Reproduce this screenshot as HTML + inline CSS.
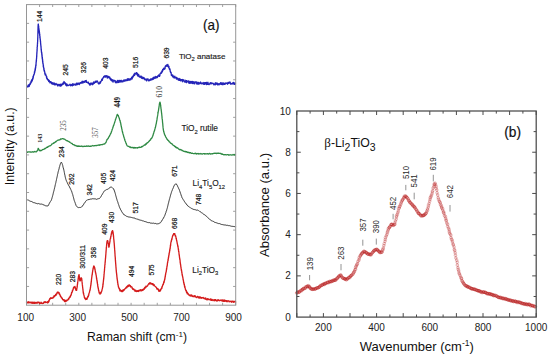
<!DOCTYPE html>
<html><head><meta charset="utf-8"><style>
html,body{margin:0;padding:0;background:#fff;}
body{width:550px;height:357px;overflow:hidden;font-family:"Liberation Sans", sans-serif;}
svg{display:block;}
</style></head><body>
<svg width="550" height="357" viewBox="0 0 550 357">
<rect width="550" height="357" fill="#fff"/>
<path d="M26.50,305.2 v-2.4 M26.50,4.6 v2.4 M39.58,305.2 v-2.4 M39.58,4.6 v2.4 M52.65,305.2 v-2.4 M52.65,4.6 v2.4 M65.72,305.2 v-2.4 M65.72,4.6 v2.4 M78.80,305.2 v-2.4 M78.80,4.6 v2.4 M91.88,305.2 v-2.4 M91.88,4.6 v2.4 M104.95,305.2 v-2.4 M104.95,4.6 v2.4 M118.03,305.2 v-2.4 M118.03,4.6 v2.4 M131.10,305.2 v-2.4 M131.10,4.6 v2.4 M144.18,305.2 v-2.4 M144.18,4.6 v2.4 M157.25,305.2 v-2.4 M157.25,4.6 v2.4 M170.33,305.2 v-2.4 M170.33,4.6 v2.4 M183.40,305.2 v-2.4 M183.40,4.6 v2.4 M196.47,305.2 v-2.4 M196.47,4.6 v2.4 M209.55,305.2 v-2.4 M209.55,4.6 v2.4 M222.62,305.2 v-2.4 M222.62,4.6 v2.4 M235.70,305.2 v-2.4 M235.70,4.6 v2.4 M26.5,23.39 h2.6 M235.7,23.39 h-2.6 M26.5,42.18 h2.6 M235.7,42.18 h-2.6 M26.5,60.97 h2.6 M235.7,60.97 h-2.6 M26.5,79.76 h2.6 M235.7,79.76 h-2.6 M26.5,98.55 h2.6 M235.7,98.55 h-2.6 M26.5,117.34 h2.6 M235.7,117.34 h-2.6 M26.5,136.13 h2.6 M235.7,136.13 h-2.6 M26.5,154.92 h2.6 M235.7,154.92 h-2.6 M26.5,173.71 h2.6 M235.7,173.71 h-2.6 M26.5,192.50 h2.6 M235.7,192.50 h-2.6 M26.5,211.29 h2.6 M235.7,211.29 h-2.6 M26.5,230.08 h2.6 M235.7,230.08 h-2.6 M26.5,248.87 h2.6 M235.7,248.87 h-2.6 M26.5,267.66 h2.6 M235.7,267.66 h-2.6 M26.5,286.45 h2.6 M235.7,286.45 h-2.6" stroke="#969696" stroke-width="0.9" fill="none"/>
<path d="M26.70,86.37 L26.89,87.02 L27.16,86.50 L27.47,86.94 L27.81,86.82 L28.16,85.25 L28.50,84.83 L28.67,86.63 L28.83,85.05 L29.01,84.78 L29.19,86.37 L29.36,84.87 L29.54,85.50 L29.72,84.37 L29.90,84.48 L30.08,83.03 L30.26,83.90 L30.43,84.17 L30.60,83.06 L30.74,83.33 L30.89,82.90 L31.03,81.18 L31.17,82.58 L31.31,81.90 L31.45,80.93 L31.59,80.00 L31.72,81.71 L31.86,80.48 L31.99,80.77 L32.12,80.85 L32.25,80.15 L32.38,80.33 L32.50,78.75 L32.60,79.46 L32.69,78.33 L32.79,79.24 L32.88,78.82 L32.97,76.67 L33.06,76.48 L33.15,76.38 L33.23,77.89 L33.32,76.32 L33.40,76.48 L33.49,75.40 L33.57,75.59 L33.66,74.99 L33.74,74.60 L33.83,74.84 L33.91,74.52 L34.00,74.97 L34.08,74.16 L34.15,74.48 L34.23,74.03 L34.31,74.07 L34.39,73.03 L34.47,71.53 L34.55,72.92 L34.63,72.88 L34.71,72.45 L34.79,71.35 L34.87,71.40 L34.94,69.90 L35.02,71.08 L35.09,70.15 L35.17,69.15 L35.24,68.30 L35.31,69.87 L35.37,69.86 L35.44,67.36 L35.50,68.72 L35.55,67.51 L35.59,66.62 L35.63,66.68 L35.67,67.54 L35.71,67.51 L35.75,65.24 L35.79,66.32 L35.83,64.66 L35.86,65.98 L35.90,64.75 L35.93,65.77 L35.97,65.71 L36.00,64.26 L36.03,65.14 L36.06,63.17 L36.10,62.30 L36.13,63.23 L36.16,61.55 L36.19,61.62 L36.22,61.80 L36.25,61.96 L36.28,60.54 L36.31,59.93 L36.34,61.57 L36.37,59.90 L36.40,61.10 L36.42,60.68 L36.45,59.15 L36.47,59.07 L36.49,58.93 L36.52,58.94 L36.54,58.53 L36.56,58.15 L36.59,58.00 L36.61,58.47 L36.63,57.13 L36.65,56.65 L36.67,57.04 L36.69,55.58 L36.72,55.42 L36.74,56.74 L36.76,55.33 L36.78,55.09 L36.80,53.49 L36.82,54.14 L36.84,54.23 L36.86,52.57 L36.88,53.69 L36.90,53.41 L36.92,51.73 L36.94,52.77 L36.96,52.08 L36.98,52.28 L37.00,51.18 L37.02,51.72 L37.04,51.49 L37.06,49.46 L37.08,49.25 L37.10,50.42 L37.12,50.81 L37.14,48.80 L37.16,49.00 L37.18,49.04 L37.20,48.10 L37.22,47.92 L37.24,47.51 L37.25,47.37 L37.27,47.63 L37.29,46.64 L37.31,46.55 L37.33,47.22 L37.35,45.15 L37.37,46.17 L37.39,46.29 L37.40,44.99 L37.42,44.49 L37.44,45.60 L37.46,43.95 L37.48,43.54 L37.49,43.83 L37.51,44.16 L37.53,42.43 L37.55,42.65 L37.56,42.36 L37.58,43.24 L37.60,41.96 L37.62,42.63 L37.63,40.64 L37.65,40.70 L37.67,41.09 L37.68,41.30 L37.70,39.88 L37.71,39.08 L37.72,38.56 L37.73,39.26 L37.74,38.15 L37.75,39.33 L37.76,39.09 L37.77,37.20 L37.78,37.10 L37.79,38.04 L37.80,37.30 L37.81,37.34 L37.82,35.88 L37.83,35.01 L37.84,35.04 L37.85,35.87 L37.86,34.25 L37.87,34.06 L37.87,33.86 L37.88,33.49 L37.89,33.09 L37.90,33.95 L37.91,31.74 L37.92,31.01 L37.93,32.89 L37.94,32.37 L37.94,32.27 L37.95,30.58 L37.96,31.47 L37.97,31.07 L37.98,29.03 L37.99,29.95 L38.00,29.84 L38.01,29.11 L38.02,28.45 L38.03,27.60 L38.04,27.43 L38.05,26.88 L38.06,26.22 L38.07,27.21 L38.09,26.24 L38.10,27.27 L38.11,25.21 L38.12,27.06 L38.13,26.37 L38.15,26.75 L38.16,26.52 L38.17,26.39 L38.19,25.49 L38.20,24.03 L38.24,25.57 L38.29,24.09 L38.33,24.40 L38.38,25.37 L38.43,25.22 L38.48,25.21 L38.53,26.79 L38.58,26.39 L38.63,26.17 L38.69,26.42 L38.74,28.38 L38.80,27.97 L38.86,29.22 L38.92,28.70 L38.98,28.83 L39.04,30.13 L39.10,31.26 L39.13,29.95 L39.17,31.69 L39.21,32.26 L39.24,32.25 L39.28,32.56 L39.32,30.88 L39.35,32.66 L39.39,33.51 L39.43,31.86 L39.47,32.69 L39.51,32.99 L39.55,33.91 L39.59,33.98 L39.63,34.41 L39.67,35.46 L39.71,33.92 L39.75,34.37 L39.80,34.87 L39.84,35.19 L39.88,35.39 L39.92,37.89 L39.96,37.93 L40.00,36.42 L40.04,37.74 L40.08,37.62 L40.11,37.95 L40.15,38.36 L40.19,39.40 L40.23,39.57 L40.26,39.35 L40.30,39.26 L40.33,39.89 L40.37,39.69 L40.40,41.03 L40.43,41.72 L40.46,41.22 L40.49,40.81 L40.53,41.35 L40.56,42.13 L40.59,43.00 L40.62,43.74 L40.65,43.08 L40.68,44.41 L40.71,44.29 L40.74,44.15 L40.77,44.32 L40.80,44.93 L40.83,45.74 L40.86,45.37 L40.89,46.34 L40.92,46.09 L40.94,45.88 L40.97,46.88 L41.00,47.57 L41.03,46.38 L41.06,47.52 L41.09,47.82 L41.12,49.21 L41.15,49.64 L41.18,48.58 L41.21,50.12 L41.24,50.14 L41.27,49.15 L41.30,49.91 L41.34,49.44 L41.38,51.43 L41.42,51.41 L41.45,52.28 L41.49,52.37 L41.53,52.40 L41.57,52.87 L41.61,52.78 L41.65,51.98 L41.68,53.46 L41.72,52.36 L41.76,53.00 L41.80,54.81 L41.84,53.36 L41.88,53.77 L41.92,54.09 L41.95,56.26 L41.99,54.87 L42.03,54.79 L42.07,57.05 L42.11,55.61 L42.15,57.64 L42.18,57.53 L42.22,58.21 L42.26,58.79 L42.30,58.19 L42.34,59.03 L42.38,57.50 L42.41,59.56 L42.45,59.24 L42.49,60.03 L42.52,58.87 L42.55,60.71 L42.59,61.45 L42.62,59.64 L42.66,60.57 L42.69,61.43 L42.73,62.36 L42.76,61.25 L42.80,61.39 L42.84,61.85 L42.87,63.03 L42.91,63.65 L42.95,63.09 L43.00,63.32 L43.04,63.70 L43.09,63.89 L43.14,64.36 L43.19,63.87 L43.24,65.18 L43.30,66.64 L43.35,65.57 L43.40,66.66 L43.45,65.53 L43.50,67.10 L43.56,67.55 L43.61,67.65 L43.67,67.57 L43.72,67.80 L43.78,68.48 L43.83,69.40 L43.89,67.91 L43.95,68.09 L44.01,69.97 L44.07,70.68 L44.14,70.03 L44.20,70.15 L44.27,71.12 L44.34,70.15 L44.41,70.64 L44.48,70.78 L44.55,72.00 L44.62,71.64 L44.70,71.73 L44.78,73.12 L44.86,74.03 L44.94,72.72 L45.03,73.97 L45.11,73.53 L45.20,74.85 L45.32,74.52 L45.44,74.08 L45.56,74.27 L45.69,74.11 L45.82,75.51 L45.96,75.59 L46.10,75.38 L46.24,76.13 L46.39,76.32 L46.53,77.70 L46.68,76.46 L46.83,78.77 L46.98,77.81 L47.14,78.37 L47.29,78.31 L47.44,79.44 L47.60,79.65 L47.75,79.26 L47.90,79.31 L48.05,80.11 L48.20,80.65 L48.35,79.76 L48.50,80.76 L48.73,81.61 L48.95,80.71 L49.16,80.39 L49.37,80.63 L49.57,82.00 L49.78,82.09 L49.99,82.95 L50.21,82.87 L50.44,81.56 L50.69,81.60 L50.95,81.92 L51.24,81.91 L51.56,83.32 L51.90,83.86 L52.13,84.07 L52.37,82.64 L52.64,84.21 L52.91,83.01 L53.20,83.39 L53.50,84.24 L53.80,82.81 L54.12,82.95 L54.44,84.84 L54.76,83.65 L55.09,83.92 L55.41,84.57 L55.74,84.90 L56.06,83.39 L56.38,84.28 L56.70,84.61 L57.00,84.81 L57.30,84.23 L57.59,85.20 L57.86,86.15 L58.13,84.85 L58.37,85.27 L58.60,84.29 L59.04,84.71 L59.44,85.67 L59.80,84.33 L60.13,86.15 L60.44,86.14 L60.72,84.11 L60.99,86.04 L61.25,84.57 L61.50,85.41 L61.75,85.24 L62.00,84.01 L62.27,84.75 L62.52,84.47 L62.76,84.58 L62.99,83.00 L63.20,83.89 L63.41,84.11 L63.61,83.18 L63.80,82.66 L64.00,81.52 L64.20,82.39 L64.41,82.10 L64.59,83.13 L64.76,83.27 L64.92,83.28 L65.08,82.67 L65.27,84.10 L65.47,84.36 L65.71,83.53 L66.00,85.44 L66.23,84.99 L66.47,83.82 L66.72,85.85 L66.97,84.05 L67.24,84.58 L67.53,85.59 L67.83,85.35 L68.16,85.29 L68.52,85.55 L68.91,85.11 L69.34,84.76 L69.80,84.42 L70.03,84.15 L70.28,85.69 L70.55,85.75 L70.83,85.22 L71.13,85.65 L71.44,84.70 L71.76,84.43 L72.08,84.67 L72.42,85.79 L72.75,83.75 L73.10,84.80 L73.44,84.13 L73.79,85.32 L74.13,84.27 L74.47,84.16 L74.81,84.27 L75.14,84.54 L75.47,85.03 L75.78,83.97 L76.09,85.10 L76.38,83.28 L76.66,83.61 L76.92,83.16 L77.17,83.14 L77.39,84.70 L77.60,84.55 L78.15,83.16 L78.54,83.12 L78.81,83.64 L79.02,84.40 L79.20,84.54 L79.39,84.33 L79.65,83.86 L80.00,82.65 L80.22,83.16 L80.47,82.56 L80.73,83.23 L81.01,83.18 L81.30,82.15 L81.60,82.10 L81.90,83.21 L82.21,81.24 L82.51,82.93 L82.81,82.98 L83.10,82.96 L83.38,81.45 L83.64,81.73 L83.88,81.68 L84.10,81.70 L84.30,82.44 L84.77,81.58 L85.07,80.58 L85.28,81.94 L85.50,81.12 L85.80,81.54 L86.01,81.96 L86.21,80.38 L86.43,82.41 L86.65,82.36 L86.89,82.17 L87.14,82.46 L87.40,82.53 L87.69,82.09 L88.00,83.07 L88.25,82.02 L88.51,83.28 L88.78,83.78 L89.07,83.46 L89.36,83.90 L89.66,84.99 L89.97,84.96 L90.29,83.25 L90.61,84.90 L90.94,84.54 L91.27,83.17 L91.60,83.86 L91.84,83.49 L92.09,83.00 L92.35,83.96 L92.61,84.72 L92.88,83.07 L93.15,84.16 L93.43,83.51 L93.71,81.93 L93.98,83.43 L94.26,82.58 L94.53,83.14 L94.79,82.42 L95.05,82.29 L95.30,81.18 L95.55,82.17 L95.78,82.38 L96.00,82.17 L96.29,81.17 L96.57,82.05 L96.83,81.59 L97.07,80.93 L97.30,81.05 L97.53,81.42 L97.75,82.01 L97.97,82.19 L98.20,83.22 L98.42,83.88 L98.66,83.59 L98.90,83.31 L99.10,83.79 L99.31,82.85 L99.51,83.07 L99.72,83.58 L99.93,82.50 L100.14,81.72 L100.36,83.18 L100.57,82.47 L100.78,81.33 L100.99,81.04 L101.20,81.12 L101.40,81.00 L101.61,79.83 L101.80,79.04 L102.00,79.30 L102.22,80.42 L102.42,78.61 L102.62,79.08 L102.81,78.16 L102.99,77.91 L103.18,77.53 L103.37,77.82 L103.56,77.00 L103.76,76.43 L103.98,76.41 L104.20,76.37 L104.44,76.99 L104.70,75.84 L104.96,75.68 L105.23,76.65 L105.51,76.52 L105.81,77.22 L106.11,75.67 L106.42,76.54 L106.74,76.58 L107.06,75.75 L107.38,78.09 L107.71,76.40 L108.04,76.21 L108.36,77.25 L108.68,76.64 L109.00,77.89 L109.23,77.36 L109.46,76.98 L109.69,76.98 L109.91,78.79 L110.14,77.91 L110.36,79.36 L110.59,78.82 L110.81,80.18 L111.04,78.90 L111.27,79.01 L111.50,79.29 L111.74,80.84 L111.98,80.61 L112.22,80.14 L112.46,79.74 L112.71,81.33 L112.97,82.18 L113.23,81.41 L113.50,80.11 L113.77,80.26 L114.04,80.48 L114.31,80.73 L114.59,80.46 L114.86,80.53 L115.14,82.00 L115.42,82.60 L115.70,80.92 L115.99,82.77 L116.29,81.56 L116.59,82.32 L116.89,82.57 L117.21,82.59 L117.53,80.38 L117.87,80.99 L118.21,81.68 L118.56,82.45 L118.92,80.35 L119.30,80.80 L119.56,82.11 L119.82,80.32 L120.10,80.95 L120.39,80.78 L120.68,81.57 L120.98,82.13 L121.29,80.28 L121.61,81.59 L121.93,81.53 L122.25,81.73 L122.58,81.00 L122.91,81.84 L123.24,80.44 L123.57,80.51 L123.90,80.01 L124.23,81.27 L124.56,80.50 L124.88,79.93 L125.21,79.63 L125.52,80.90 L125.83,80.56 L126.13,80.75 L126.43,79.91 L126.72,80.09 L127.00,79.22 L127.26,80.50 L127.52,78.78 L127.77,79.78 L128.00,80.42 L128.40,80.11 L128.76,78.61 L129.11,78.83 L129.43,80.17 L129.74,79.58 L130.02,80.03 L130.29,79.89 L130.55,78.75 L130.80,79.70 L131.03,79.17 L131.27,78.07 L131.49,78.00 L131.72,77.13 L131.94,77.74 L132.17,78.89 L132.40,76.65 L132.62,77.56 L132.83,76.22 L133.03,75.88 L133.23,76.96 L133.43,75.68 L133.61,74.91 L133.80,74.85 L133.98,75.71 L134.16,75.26 L134.33,73.58 L134.50,73.81 L134.67,75.31 L134.84,73.27 L135.01,73.88 L135.17,73.35 L135.34,74.07 L135.50,73.55 L135.77,73.92 L136.03,73.34 L136.28,72.61 L136.52,72.76 L136.76,72.75 L136.99,74.79 L137.23,73.35 L137.48,73.40 L137.73,75.91 L138.00,74.28 L138.22,76.10 L138.44,74.31 L138.65,75.38 L138.86,74.95 L139.07,76.56 L139.29,76.21 L139.52,76.44 L139.77,76.89 L140.03,77.33 L140.33,76.25 L140.65,77.05 L141.00,76.87 L141.22,76.19 L141.45,78.06 L141.69,77.62 L141.94,78.30 L142.21,77.00 L142.48,77.96 L142.76,77.94 L143.04,78.74 L143.33,77.35 L143.63,78.16 L143.92,78.66 L144.23,77.82 L144.53,79.13 L144.83,79.71 L145.14,79.10 L145.44,79.76 L145.74,79.77 L146.04,78.93 L146.33,79.34 L146.62,80.95 L146.90,79.40 L147.21,79.66 L147.51,78.84 L147.82,79.15 L148.13,78.99 L148.43,80.79 L148.74,80.24 L149.04,80.53 L149.35,80.72 L149.65,79.73 L149.96,80.40 L150.26,79.35 L150.57,78.96 L150.87,80.12 L151.18,79.90 L151.48,79.90 L151.79,78.67 L152.09,79.26 L152.39,78.27 L152.70,79.59 L152.99,79.32 L153.29,77.73 L153.59,79.18 L153.89,77.30 L154.20,77.01 L154.50,78.43 L154.81,77.31 L155.12,77.77 L155.42,77.97 L155.72,76.43 L156.03,78.03 L156.32,76.80 L156.62,77.06 L156.91,76.73 L157.19,77.56 L157.47,77.44 L157.74,76.19 L158.00,75.59 L158.26,75.90 L158.50,75.99 L158.72,75.00 L158.93,74.99 L159.14,76.25 L159.33,75.88 L159.51,76.32 L159.69,76.09 L159.87,75.60 L160.04,74.15 L160.20,73.38 L160.36,73.49 L160.52,73.59 L160.69,73.47 L160.85,73.24 L161.01,72.53 L161.18,73.44 L161.35,71.81 L161.52,71.96 L161.71,72.71 L161.90,72.26 L162.09,70.77 L162.30,70.38 L162.48,71.51 L162.67,69.36 L162.87,69.41 L163.07,70.10 L163.28,69.85 L163.49,68.68 L163.70,68.12 L163.92,68.20 L164.14,69.28 L164.37,68.26 L164.59,69.21 L164.81,68.47 L165.04,68.66 L165.26,66.13 L165.48,66.24 L165.69,65.59 L165.91,66.37 L166.12,65.93 L166.32,65.06 L166.52,66.08 L166.71,64.84 L166.90,65.25 L167.07,65.00 L167.24,66.26 L167.40,65.30 L167.62,64.93 L167.82,64.47 L168.01,65.51 L168.19,66.16 L168.36,66.48 L168.51,67.30 L168.66,67.33 L168.81,66.29 L168.94,66.36 L169.08,68.20 L169.21,68.63 L169.33,68.32 L169.46,69.46 L169.59,69.14 L169.72,68.83 L169.86,68.90 L170.00,68.84 L170.12,70.61 L170.23,71.50 L170.34,71.81 L170.43,71.05 L170.52,71.82 L170.61,72.76 L170.69,72.79 L170.78,72.59 L170.87,72.45 L170.96,73.00 L171.06,72.48 L171.16,72.81 L171.28,74.31 L171.41,75.34 L171.55,74.56 L171.71,74.51 L171.89,74.64 L172.08,75.15 L172.30,76.23 L172.49,75.57 L172.68,76.97 L172.89,75.22 L173.10,75.77 L173.32,76.44 L173.55,76.34 L173.79,77.56 L174.03,77.66 L174.28,78.06 L174.54,77.45 L174.80,76.20 L175.08,77.65 L175.35,77.73 L175.63,77.72 L175.92,77.36 L176.21,78.53 L176.51,79.15 L176.81,77.35 L177.12,78.84 L177.43,78.26 L177.74,78.74 L178.06,79.78 L178.38,80.07 L178.70,79.44 L178.95,78.47 L179.20,80.32 L179.46,78.64 L179.72,79.23 L179.98,80.40 L180.24,79.28 L180.50,79.27 L180.77,81.00 L181.04,81.08 L181.31,79.68 L181.58,79.96 L181.86,79.79 L182.14,79.53 L182.43,79.91 L182.71,81.76 L183.00,79.69 L183.29,80.14 L183.59,80.16 L183.89,79.96 L184.20,81.12 L184.50,81.73 L184.81,82.04 L185.13,81.63 L185.45,82.15 L185.77,80.28 L186.10,81.03 L186.43,82.73 L186.77,80.66 L187.11,81.21 L187.45,81.79 L187.80,81.34 L188.06,82.06 L188.32,80.91 L188.58,81.40 L188.85,83.18 L189.11,81.27 L189.38,83.13 L189.64,81.43 L189.91,83.42 L190.18,82.69 L190.46,82.66 L190.73,81.48 L191.01,81.31 L191.28,83.03 L191.56,81.66 L191.84,81.73 L192.13,83.28 L192.41,83.43 L192.70,81.47 L192.99,83.69 L193.29,82.69 L193.58,82.36 L193.88,81.72 L194.18,82.42 L194.48,83.88 L194.79,82.21 L195.10,81.87 L195.41,81.93 L195.73,81.91 L196.04,82.47 L196.37,83.84 L196.69,81.85 L197.02,82.15 L197.35,83.97 L197.68,84.12 L198.02,84.11 L198.37,82.36 L198.71,82.65 L199.06,84.10 L199.41,83.00 L199.77,83.55 L200.13,82.63 L200.50,81.95 L200.76,82.74 L201.02,83.73 L201.29,83.82 L201.57,83.33 L201.84,83.09 L202.12,83.28 L202.41,83.07 L202.69,83.30 L202.98,84.03 L203.28,82.53 L203.58,83.49 L203.88,84.32 L204.18,84.13 L204.48,82.54 L204.79,84.43 L205.10,84.15 L205.41,82.55 L205.73,82.80 L206.05,82.66 L206.36,82.32 L206.68,84.55 L207.00,83.20 L207.32,84.32 L207.65,82.52 L207.97,82.29 L208.30,84.35 L208.62,84.18 L208.95,84.67 L209.27,83.95 L209.60,83.57 L209.93,84.16 L210.25,82.56 L210.58,83.64 L210.90,83.41 L211.23,82.72 L211.55,83.82 L211.88,83.16 L212.20,83.61 L212.52,83.30 L212.84,83.17 L213.15,83.28 L213.47,83.87 L213.79,84.79 L214.10,84.69 L214.41,84.52 L214.72,84.46 L215.02,83.15 L215.32,84.81 L215.62,83.12 L215.92,82.77 L216.22,83.68 L216.51,84.24 L216.79,83.31 L217.08,84.04 L217.36,83.17 L217.63,84.82 L217.91,83.58 L218.18,83.65 L218.44,83.78 L218.70,84.60 L219.07,84.87 L219.43,83.76 L219.80,83.55 L220.16,83.97 L220.52,82.64 L220.88,83.49 L221.23,84.49 L221.59,84.31 L221.94,82.57 L222.29,84.46 L222.64,83.32 L222.98,84.74 L223.32,83.24 L223.66,82.86 L223.99,83.64 L224.33,84.43 L224.65,83.32 L224.98,84.35 L225.30,83.95 L225.62,83.09 L225.93,82.92 L226.24,83.39 L226.55,83.11 L226.85,83.03 L227.14,83.68 L227.44,84.20 L227.72,83.48 L228.01,82.41 L228.29,82.56 L228.56,82.91 L228.83,83.48 L229.09,82.32 L229.35,82.17 L229.60,82.73 L229.84,82.62 L230.09,82.00 L230.32,83.22 L230.55,84.13 L230.77,83.19 L230.99,83.67 L231.20,83.89 L231.40,83.91 L232.01,84.10 L232.55,82.99 L233.02,83.61 L233.43,82.31 L233.79,84.18 L234.10,83.04 L234.38,83.34 L234.61,84.40 L234.82,83.01 L235.01,82.83 L235.18,84.41 L235.34,83.91 L235.50,82.70" stroke="#2424b8" stroke-width="1.3" fill="none" stroke-linejoin="round"/>
<path d="M26.50,151.87 L26.81,152.08 L27.21,151.82 L27.69,152.37 L28.22,151.89 L28.80,151.92 L29.41,151.97 L30.04,152.02 L30.67,151.93 L31.29,152.03 L31.89,152.02 L32.45,151.83 L32.96,151.55 L33.40,152.14 L34.11,151.89 L34.74,151.44 L35.29,151.68 L35.79,151.86 L36.24,151.96 L36.64,151.19 L37.00,150.96 L37.35,150.88 L37.61,150.27 L37.80,149.96 L37.96,149.31 L38.12,148.50 L38.30,148.34 L38.53,148.61 L38.72,149.31 L38.93,149.46 L39.18,150.18 L39.50,150.31 L39.91,150.79 L40.38,150.32 L40.90,150.81 L41.45,150.33 L42.00,150.15 L42.45,149.62 L42.89,149.51 L43.34,149.43 L43.83,149.42 L44.38,148.88 L45.00,148.35 L45.38,148.62 L45.79,148.17 L46.22,147.84 L46.67,147.35 L47.14,147.16 L47.61,147.31 L48.10,146.49 L48.58,146.48 L49.06,146.26 L49.54,145.79 L50.00,145.79 L50.42,145.62 L50.86,145.29 L51.30,144.91 L51.74,144.24 L52.18,143.83 L52.62,143.78 L53.06,143.40 L53.48,143.02 L53.89,143.21 L54.28,142.48 L54.65,142.65 L55.00,142.51 L55.60,141.54 L56.09,141.76 L56.52,141.12 L56.95,140.72 L57.42,140.45 L58.00,140.08 L58.46,140.20 L58.96,139.89 L59.49,139.98 L60.05,139.74 L60.61,138.98 L61.17,139.03 L61.72,138.87 L62.23,138.61 L62.70,138.63 L63.25,138.69 L63.75,139.14 L64.23,139.12 L64.68,139.23 L65.12,139.59 L65.56,140.02 L66.00,140.35 L66.48,140.33 L66.90,140.82 L67.31,140.66 L67.76,141.18 L68.31,141.41 L69.00,141.47 L69.35,142.08 L69.74,142.07 L70.15,142.44 L70.58,142.77 L71.04,143.09 L71.51,143.28 L71.99,143.33 L72.49,144.16 L72.98,144.52 L73.48,144.56 L73.97,144.90 L74.46,144.93 L74.94,145.59 L75.40,145.63 L75.92,145.48 L76.41,146.04 L76.88,146.28 L77.35,145.93 L77.82,146.45 L78.29,146.15 L78.78,145.98 L79.29,146.39 L79.83,146.14 L80.41,146.43 L81.03,146.34 L81.70,146.03 L82.11,146.33 L82.55,146.56 L83.00,146.29 L83.48,146.33 L83.97,146.55 L84.47,146.25 L84.99,146.27 L85.51,146.32 L86.05,146.47 L86.59,146.01 L87.13,145.91 L87.67,146.35 L88.21,146.18 L88.74,145.98 L89.27,146.36 L89.80,146.32 L90.31,146.05 L90.80,146.34 L91.29,146.20 L91.75,146.10 L92.20,145.75 L92.80,145.51 L93.40,145.93 L93.98,145.92 L94.55,145.60 L95.11,145.63 L95.66,145.64 L96.19,145.36 L96.72,145.61 L97.23,145.45 L97.72,145.26 L98.21,145.00 L98.68,145.24 L99.13,145.01 L99.57,145.23 L100.00,144.77 L100.68,144.82 L101.32,144.58 L101.93,144.64 L102.50,144.66 L103.03,144.22 L103.53,144.06 L103.99,144.20 L104.41,143.82 L104.80,143.80 L105.21,143.23 L105.51,142.79 L105.74,142.67 L105.94,142.47 L106.14,141.92 L106.38,141.12 L106.70,140.43 L106.93,139.82 L107.18,139.56 L107.45,139.15 L107.73,139.15 L108.03,138.11 L108.33,138.21 L108.62,137.40 L108.92,136.88 L109.21,136.27 L109.49,136.28 L109.76,135.25 L110.00,135.05 L110.22,134.55 L110.43,133.90 L110.62,133.50 L110.80,133.62 L110.97,133.07 L111.14,132.60 L111.31,132.28 L111.49,131.25 L111.67,131.18 L111.86,130.68 L112.07,129.74 L112.30,129.27 L112.44,129.24 L112.59,128.37 L112.74,128.22 L112.90,127.33 L113.07,127.20 L113.23,126.41 L113.41,126.06 L113.58,125.43 L113.76,125.24 L113.94,124.62 L114.11,123.91 L114.29,123.50 L114.46,122.79 L114.64,122.53 L114.81,121.64 L114.97,121.34 L115.13,120.90 L115.28,120.31 L115.43,119.64 L115.57,119.33 L115.70,119.30 L115.97,118.19 L116.21,117.79 L116.42,116.87 L116.61,116.51 L116.79,115.86 L116.97,115.31 L117.16,114.74 L117.37,114.35 L117.60,114.74 L117.77,115.00 L117.94,115.35 L118.12,115.14 L118.30,115.49 L118.49,116.50 L118.69,116.82 L118.88,117.18 L119.08,117.94 L119.27,118.13 L119.47,119.03 L119.66,119.75 L119.84,120.33 L120.02,120.65 L120.20,121.25 L120.32,122.01 L120.43,122.63 L120.54,122.56 L120.65,122.93 L120.75,123.45 L120.85,124.43 L120.95,124.64 L121.05,125.18 L121.15,126.06 L121.25,126.30 L121.35,126.57 L121.45,127.40 L121.56,127.44 L121.66,128.16 L121.77,128.98 L121.89,129.14 L122.01,129.58 L122.13,130.45 L122.26,130.85 L122.40,131.83 L122.52,131.69 L122.65,132.67 L122.79,132.88 L122.92,133.68 L123.06,133.95 L123.20,134.63 L123.35,134.93 L123.50,135.39 L123.65,136.09 L123.80,136.88 L123.95,137.09 L124.11,137.54 L124.26,138.20 L124.42,138.49 L124.58,139.15 L124.73,139.83 L124.89,140.29 L125.05,140.78 L125.20,141.01 L125.35,141.25 L125.50,141.65 L125.65,142.24 L125.80,142.49 L126.11,143.46 L126.38,143.86 L126.62,144.74 L126.85,145.08 L127.10,145.51 L127.37,145.90 L127.69,146.04 L128.08,146.25 L128.54,146.42 L129.10,146.49 L129.46,147.14 L129.86,147.06 L130.30,146.90 L130.76,147.58 L131.25,147.44 L131.76,147.56 L132.29,147.51 L132.84,147.36 L133.39,148.02 L133.94,147.49 L134.50,147.67 L135.06,148.13 L135.61,147.54 L136.15,147.80 L136.67,147.78 L137.17,147.60 L137.65,148.04 L138.10,147.64 L138.65,147.29 L139.18,147.52 L139.69,147.09 L140.18,147.45 L140.66,147.42 L141.13,147.29 L141.59,146.51 L142.05,146.75 L142.50,146.27 L142.95,146.15 L143.41,145.77 L143.86,145.49 L144.33,145.07 L144.80,145.09 L145.18,144.44 L145.57,144.75 L145.97,143.79 L146.37,144.10 L146.78,143.20 L147.19,142.76 L147.60,142.84 L148.01,142.30 L148.41,142.06 L148.81,141.48 L149.20,141.15 L149.58,140.36 L149.94,140.37 L150.29,139.85 L150.63,139.76 L150.94,138.70 L151.23,138.37 L151.50,138.42 L151.83,138.10 L152.12,137.26 L152.37,136.98 L152.60,136.40 L152.79,135.81 L152.96,135.39 L153.12,135.02 L153.27,134.14 L153.41,133.86 L153.54,133.67 L153.68,132.85 L153.84,132.49 L154.00,131.83 L154.16,131.43 L154.31,131.18 L154.46,130.80 L154.60,130.51 L154.74,129.73 L154.88,129.09 L155.01,128.73 L155.15,128.06 L155.28,127.68 L155.42,127.39 L155.56,126.85 L155.70,125.98 L155.85,125.28 L156.00,124.52 L156.08,124.18 L156.16,123.99 L156.25,123.39 L156.33,123.38 L156.42,122.68 L156.50,122.04 L156.59,121.61 L156.68,120.83 L156.77,120.79 L156.86,120.28 L156.95,119.47 L157.04,119.19 L157.13,118.33 L157.22,117.74 L157.31,117.20 L157.40,116.64 L157.49,116.38 L157.57,115.87 L157.66,115.40 L157.75,114.44 L157.83,114.39 L157.91,113.68 L157.99,113.12 L158.07,112.73 L158.15,112.22 L158.23,111.61 L158.30,111.33 L158.41,110.87 L158.51,110.27 L158.61,109.74 L158.71,108.57 L158.80,108.39 L158.90,107.67 L158.99,106.96 L159.08,106.52 L159.16,105.33 L159.25,105.21 L159.33,104.77 L159.41,103.74 L159.50,103.64 L159.58,103.51 L159.66,102.74 L159.74,102.90 L159.82,102.77 L159.90,102.35 L160.00,102.17 L160.09,102.36 L160.18,103.04 L160.27,103.11 L160.36,103.47 L160.45,104.07 L160.53,104.98 L160.62,105.12 L160.70,105.62 L160.79,106.95 L160.87,107.20 L160.95,107.95 L161.03,109.05 L161.12,109.22 L161.20,109.71 L161.26,110.71 L161.32,110.70 L161.37,111.14 L161.43,112.11 L161.49,112.08 L161.54,113.03 L161.60,113.12 L161.65,113.59 L161.71,114.03 L161.76,114.76 L161.81,115.28 L161.87,115.69 L161.93,116.28 L161.98,116.65 L162.04,117.56 L162.10,118.15 L162.15,118.55 L162.21,119.13 L162.27,119.14 L162.34,119.79 L162.40,120.29 L162.46,120.75 L162.51,121.82 L162.56,122.29 L162.61,122.82 L162.66,123.09 L162.71,123.32 L162.76,124.08 L162.80,124.36 L162.85,125.50 L162.90,125.60 L162.95,126.16 L163.01,127.16 L163.07,127.18 L163.13,128.22 L163.19,128.32 L163.26,129.08 L163.33,129.21 L163.41,130.26 L163.49,130.40 L163.58,130.84 L163.68,131.53 L163.79,131.93 L163.90,132.13 L164.06,132.60 L164.22,133.45 L164.39,133.58 L164.57,134.67 L164.75,134.78 L164.94,135.12 L165.14,135.68 L165.34,135.96 L165.56,136.53 L165.79,137.11 L166.03,137.43 L166.29,137.80 L166.56,138.18 L166.84,138.73 L167.14,139.35 L167.46,139.53 L167.80,140.19 L168.09,140.34 L168.40,140.44 L168.72,140.83 L169.06,141.67 L169.41,141.77 L169.77,142.06 L170.14,142.51 L170.52,143.10 L170.91,143.12 L171.31,143.47 L171.71,143.82 L172.11,143.91 L172.52,144.62 L172.93,144.91 L173.33,145.24 L173.74,145.53 L174.14,145.85 L174.54,146.32 L174.94,146.24 L175.32,147.07 L175.70,146.73 L176.16,147.57 L176.61,147.38 L177.06,148.10 L177.50,147.99 L177.94,148.12 L178.38,148.69 L178.82,149.13 L179.26,149.36 L179.70,149.60 L180.15,149.88 L180.60,149.44 L181.06,149.87 L181.53,149.87 L182.01,150.51 L182.49,150.49 L182.99,150.88 L183.50,151.11 L183.94,151.41 L184.37,151.34 L184.81,151.63 L185.24,151.56 L185.67,151.38 L186.11,152.09 L186.55,151.68 L186.99,151.81 L187.45,152.47 L187.91,152.22 L188.38,152.61 L188.86,152.29 L189.35,152.53 L189.86,153.00 L190.39,152.63 L190.93,153.06 L191.49,153.46 L192.07,153.04 L192.67,153.47 L193.30,153.57 L193.72,153.53 L194.16,153.67 L194.61,153.66 L195.08,153.22 L195.56,153.38 L196.06,153.65 L196.56,153.98 L197.08,153.48 L197.60,153.76 L198.14,153.46 L198.67,153.98 L199.22,153.72 L199.77,153.78 L200.32,153.90 L200.87,153.53 L201.43,153.96 L201.98,154.01 L202.53,154.06 L203.08,153.66 L203.63,153.63 L204.16,153.58 L204.70,154.10 L205.22,153.78 L205.74,153.74 L206.24,153.83 L206.74,153.95 L207.22,153.69 L207.69,153.70 L208.14,153.99 L208.58,154.00 L209.00,153.66 L209.66,153.49 L210.30,154.07 L210.92,153.90 L211.52,153.77 L212.10,153.59 L212.66,153.93 L213.21,153.51 L213.74,153.31 L214.26,153.17 L214.76,153.29 L215.25,153.42 L215.73,153.21 L216.19,153.57 L216.65,153.33 L217.10,153.17 L217.53,153.29 L217.96,153.25 L218.38,153.26 L218.80,153.20 L219.41,153.28 L219.95,153.35 L220.43,153.71 L220.87,153.41 L221.29,153.99 L221.69,153.82 L222.09,154.38 L222.51,154.00 L222.97,154.45 L223.48,154.56 L224.05,154.86 L224.70,154.59 L225.12,154.67 L225.58,154.61 L226.08,154.93 L226.61,154.95 L227.17,154.56 L227.74,154.69 L228.34,154.71 L228.94,155.24 L229.55,154.88 L230.16,154.95 L230.77,154.75 L231.37,155.00 L231.95,155.09 L232.52,154.98 L233.06,154.50 L233.57,154.79 L234.04,154.82 L234.48,154.50 L234.87,155.01 L235.21,154.67 L235.50,154.66" stroke="#2f8a44" stroke-width="1.3" fill="none" stroke-linejoin="round"/>
<path d="M26.50,199.46 L26.76,199.56 L27.07,199.66 L27.42,200.02 L27.81,200.04 L28.24,200.16 L28.70,200.24 L29.19,200.72 L29.69,200.87 L30.22,201.20 L30.76,201.35 L31.30,201.42 L31.85,201.67 L32.40,201.96 L32.94,202.13 L33.48,202.70 L34.00,202.74 L34.47,202.71 L34.95,203.07 L35.45,203.16 L35.97,202.99 L36.49,203.44 L37.03,203.28 L37.56,203.77 L38.10,203.43 L38.64,203.60 L39.17,203.67 L39.69,204.06 L40.21,204.13 L40.71,204.10 L41.19,203.97 L41.66,204.19 L42.10,204.42 L42.51,204.19 L42.90,204.71 L43.61,204.88 L44.24,205.18 L44.81,205.32 L45.33,205.54 L45.81,205.96 L46.24,205.81 L46.65,205.97 L47.03,205.94 L47.40,205.94 L47.82,206.07 L48.17,205.40 L48.45,205.31 L48.70,204.64 L48.95,204.33 L49.21,203.70 L49.50,203.09 L49.72,202.81 L49.94,202.07 L50.17,201.87 L50.39,201.59 L50.62,201.26 L50.85,200.98 L51.10,200.60 L51.35,199.95 L51.62,199.35 L51.90,198.40 L52.01,197.88 L52.12,197.59 L52.23,197.32 L52.35,196.94 L52.47,196.29 L52.59,195.84 L52.71,195.51 L52.84,194.84 L52.96,194.68 L53.09,193.74 L53.22,193.55 L53.35,192.95 L53.48,192.28 L53.61,191.93 L53.74,191.34 L53.87,191.04 L54.00,190.45 L54.14,189.74 L54.27,189.33 L54.40,188.78 L54.53,187.87 L54.66,187.65 L54.79,187.10 L54.92,186.64 L55.05,185.98 L55.18,185.27 L55.30,184.65 L55.42,184.39 L55.53,183.67 L55.65,183.44 L55.77,182.83 L55.88,182.44 L56.00,181.68 L56.12,181.13 L56.23,180.89 L56.35,180.24 L56.47,179.56 L56.59,179.11 L56.70,178.51 L56.82,178.07 L56.94,177.48 L57.05,176.83 L57.17,176.64 L57.28,176.07 L57.40,175.49 L57.51,174.74 L57.62,174.19 L57.74,173.97 L57.85,173.52 L57.96,172.96 L58.07,172.28 L58.18,172.08 L58.28,171.54 L58.39,171.04 L58.50,170.74 L58.60,170.27 L58.79,169.67 L58.97,169.02 L59.15,168.43 L59.32,167.30 L59.49,166.86 L59.67,166.40 L59.83,165.63 L60.00,165.01 L60.16,164.60 L60.33,163.70 L60.49,163.65 L60.65,163.19 L60.81,162.87 L60.98,162.51 L61.14,162.52 L61.30,162.21 L61.46,162.46 L61.63,162.48 L61.79,163.08 L61.96,163.35 L62.12,163.60 L62.29,164.22 L62.45,164.57 L62.61,165.22 L62.77,165.64 L62.93,166.62 L63.08,167.21 L63.24,167.84 L63.38,168.12 L63.53,169.08 L63.67,169.24 L63.80,170.03 L63.93,170.49 L64.05,170.78 L64.16,171.48 L64.27,172.23 L64.38,172.63 L64.48,173.00 L64.58,173.78 L64.68,174.08 L64.78,174.87 L64.88,175.14 L64.97,175.48 L65.07,176.42 L65.17,176.45 L65.28,177.01 L65.39,177.71 L65.50,177.81 L65.67,178.60 L65.83,179.29 L65.99,179.65 L66.16,180.00 L66.33,180.65 L66.50,181.12 L66.68,181.42 L66.87,181.88 L67.07,182.17 L67.28,182.67 L67.50,183.45 L67.71,183.86 L67.93,183.82 L68.16,184.36 L68.41,184.83 L68.67,185.57 L68.93,185.73 L69.19,186.18 L69.45,186.93 L69.70,187.09 L69.94,187.94 L70.18,188.12 L70.40,188.78 L70.60,189.16 L70.84,189.38 L71.06,190.17 L71.26,190.47 L71.45,190.85 L71.63,191.23 L71.80,192.03 L71.98,192.45 L72.15,192.82 L72.32,193.61 L72.50,193.85 L72.64,194.43 L72.78,194.72 L72.91,195.34 L73.05,196.11 L73.18,196.44 L73.31,196.78 L73.45,197.35 L73.58,198.08 L73.72,198.41 L73.86,199.23 L74.00,199.32 L74.15,200.21 L74.30,200.56 L74.48,201.21 L74.67,201.54 L74.86,201.96 L75.05,202.57 L75.24,203.35 L75.44,203.58 L75.65,204.13 L75.85,204.94 L76.06,205.43 L76.28,205.82 L76.50,206.17 L76.92,206.57 L77.36,207.15 L77.81,207.38 L78.27,207.53 L78.73,207.60 L79.20,207.46 L79.65,207.49 L80.09,207.50 L80.54,207.45 L81.01,207.02 L81.52,207.06 L82.10,206.34 L82.37,206.13 L82.65,205.86 L82.94,205.14 L83.24,205.04 L83.54,204.62 L83.86,203.80 L84.18,203.24 L84.51,203.09 L84.85,202.65 L85.19,202.14 L85.53,201.51 L85.89,201.21 L86.24,200.61 L86.60,200.37 L87.06,200.14 L87.54,200.03 L88.02,199.47 L88.51,199.69 L89.01,199.07 L89.52,199.41 L90.04,198.92 L90.56,199.11 L91.10,199.02 L91.65,199.01 L92.20,198.69 L92.68,198.76 L93.19,198.57 L93.70,198.89 L94.23,198.60 L94.77,199.08 L95.31,199.03 L95.85,198.85 L96.39,199.36 L96.92,199.07 L97.44,198.93 L97.95,198.95 L98.43,198.69 L98.90,198.59 L99.25,198.56 L99.59,198.40 L99.93,197.87 L100.27,197.58 L100.61,197.13 L100.94,196.61 L101.26,195.96 L101.58,195.39 L101.89,194.84 L102.19,194.52 L102.48,193.85 L102.76,193.64 L103.03,192.97 L103.29,192.67 L103.54,192.26 L103.78,191.96 L104.00,191.43 L104.63,190.77 L105.09,190.56 L105.46,190.07 L105.81,190.12 L106.20,190.03 L106.74,189.43 L107.27,189.47 L107.81,189.05 L108.40,188.92 L108.82,188.43 L109.26,188.17 L109.71,187.75 L110.17,187.18 L110.63,187.13 L111.10,187.14 L111.50,187.17 L111.90,187.39 L112.30,187.71 L112.71,187.97 L113.13,188.44 L113.56,188.75 L114.00,189.90 L114.14,190.18 L114.28,190.69 L114.42,190.61 L114.56,191.11 L114.71,191.95 L114.85,192.11 L115.00,192.76 L115.15,193.20 L115.29,193.62 L115.44,194.17 L115.59,194.77 L115.74,195.52 L115.90,195.85 L116.05,196.53 L116.20,196.83 L116.35,197.59 L116.50,198.07 L116.65,198.68 L116.80,199.27 L116.95,199.37 L117.10,200.31 L117.25,200.60 L117.40,200.88 L117.58,201.51 L117.75,201.86 L117.93,202.45 L118.10,203.27 L118.27,203.72 L118.44,204.30 L118.61,204.45 L118.78,204.92 L118.95,205.55 L119.12,206.09 L119.29,206.67 L119.47,206.93 L119.65,207.60 L119.83,207.97 L120.01,208.26 L120.20,208.94 L120.40,208.99 L120.60,209.66 L120.80,209.84 L121.08,210.28 L121.36,211.00 L121.63,211.50 L121.91,212.00 L122.19,212.33 L122.48,213.03 L122.77,213.37 L123.08,213.44 L123.40,213.74 L123.74,214.58 L124.10,214.64 L124.47,214.81 L124.87,215.15 L125.30,215.70 L125.70,215.67 L126.12,215.97 L126.57,216.31 L127.04,216.32 L127.53,216.62 L128.03,216.90 L128.54,216.94 L129.06,216.98 L129.59,217.08 L130.11,217.03 L130.63,217.30 L131.15,217.40 L131.66,217.48 L132.16,217.54 L132.64,217.79 L133.10,217.65 L133.61,218.06 L134.09,218.35 L134.57,218.03 L135.03,218.29 L135.48,218.81 L135.93,218.51 L136.38,219.03 L136.83,219.07 L137.28,218.97 L137.75,219.41 L138.23,219.26 L138.73,219.84 L139.25,219.73 L139.80,220.21 L140.25,220.34 L140.71,220.10 L141.20,220.38 L141.70,220.41 L142.21,220.87 L142.73,220.70 L143.26,220.85 L143.80,221.03 L144.33,221.56 L144.87,221.41 L145.40,221.61 L145.92,221.82 L146.44,222.02 L146.94,222.09 L147.44,222.48 L147.91,222.30 L148.37,222.49 L148.80,222.78 L149.42,222.61 L150.03,222.69 L150.62,223.13 L151.19,222.96 L151.74,223.32 L152.28,223.35 L152.79,223.19 L153.27,223.22 L153.74,223.16 L154.18,223.59 L154.60,223.42 L155.00,223.42 L155.69,223.44 L156.26,223.57 L156.73,223.97 L157.16,223.66 L157.57,223.88 L158.00,223.86 L158.54,223.67 L159.06,223.46 L159.57,223.15 L160.05,222.72 L160.50,222.66 L160.85,222.34 L161.17,221.78 L161.48,221.18 L161.77,221.04 L162.08,220.18 L162.40,219.64 L162.65,219.46 L162.91,219.14 L163.17,218.59 L163.43,217.91 L163.70,217.87 L163.96,216.96 L164.23,216.51 L164.50,216.24 L164.68,215.73 L164.87,215.27 L165.05,214.47 L165.24,214.38 L165.43,213.66 L165.62,212.96 L165.81,212.83 L165.99,212.37 L166.18,211.40 L166.36,211.06 L166.53,210.74 L166.70,209.92 L166.84,209.43 L166.98,209.18 L167.12,208.52 L167.25,208.29 L167.38,207.71 L167.51,207.20 L167.64,206.60 L167.76,205.83 L167.89,205.56 L168.01,205.00 L168.13,204.44 L168.26,203.99 L168.38,203.37 L168.50,202.85 L168.64,202.67 L168.77,201.89 L168.90,201.26 L169.03,201.20 L169.15,200.49 L169.28,200.09 L169.40,199.44 L169.53,198.86 L169.66,198.46 L169.80,198.21 L169.95,197.42 L170.10,197.21 L170.24,196.43 L170.37,196.24 L170.51,195.39 L170.65,195.02 L170.79,194.35 L170.94,193.84 L171.09,193.51 L171.24,192.92 L171.40,192.49 L171.57,191.81 L171.74,191.36 L171.92,190.87 L172.10,190.67 L172.30,189.79 L172.52,189.43 L172.76,189.09 L173.00,188.35 L173.26,187.59 L173.52,187.36 L173.79,186.33 L174.07,185.78 L174.34,185.21 L174.62,184.96 L174.90,184.78 L175.17,184.19 L175.44,183.98 L175.70,184.15 L175.98,183.82 L176.25,183.93 L176.53,184.51 L176.80,184.56 L177.08,185.19 L177.35,185.48 L177.62,186.25 L177.90,186.95 L178.17,187.35 L178.45,187.87 L178.72,188.66 L179.00,189.30 L179.17,189.36 L179.34,189.86 L179.51,190.36 L179.67,190.87 L179.83,191.21 L179.99,191.88 L180.15,192.17 L180.31,192.99 L180.47,193.21 L180.64,193.65 L180.81,194.09 L180.98,194.62 L181.16,195.17 L181.35,196.01 L181.54,196.28 L181.74,196.78 L181.95,197.51 L182.17,197.98 L182.40,198.33 L182.64,198.51 L182.90,199.01 L183.16,199.55 L183.43,199.88 L183.72,200.37 L184.01,200.76 L184.30,201.22 L184.60,201.92 L184.91,202.28 L185.22,202.64 L185.53,203.07 L185.84,203.56 L186.16,204.00 L186.47,204.05 L186.78,204.84 L187.09,205.01 L187.40,205.29 L187.70,205.92 L188.00,206.13 L188.43,206.34 L188.87,206.55 L189.31,207.10 L189.76,207.42 L190.20,207.67 L190.65,207.79 L191.09,208.28 L191.53,208.34 L191.96,208.80 L192.38,208.88 L192.80,208.94 L193.21,209.39 L193.60,209.37 L194.14,209.40 L194.63,209.62 L195.10,209.59 L195.55,209.82 L196.01,210.11 L196.48,210.19 L196.97,210.15 L197.51,210.07 L198.10,210.37 L198.46,210.54 L198.83,210.83 L199.22,211.19 L199.62,211.12 L200.03,211.61 L200.45,211.85 L200.88,212.25 L201.31,212.63 L201.75,212.72 L202.19,213.13 L202.63,213.28 L203.07,213.70 L203.51,214.11 L203.95,214.14 L204.38,214.69 L204.80,215.00 L205.19,215.15 L205.57,215.50 L205.95,216.11 L206.33,216.21 L206.70,216.48 L207.07,216.88 L207.44,217.35 L207.82,217.64 L208.20,217.97 L208.58,218.31 L208.97,218.60 L209.36,219.08 L209.77,219.46 L210.18,219.52 L210.61,220.08 L211.05,220.23 L211.50,220.84 L211.92,221.05 L212.34,220.87 L212.77,221.37 L213.21,221.40 L213.65,221.49 L214.10,222.07 L214.55,222.27 L215.01,222.39 L215.48,222.49 L215.96,222.84 L216.44,222.79 L216.92,223.02 L217.42,223.17 L217.92,223.43 L218.42,223.58 L218.93,223.46 L219.45,223.56 L219.97,223.88 L220.50,224.04 L220.97,224.05 L221.46,224.43 L221.97,224.55 L222.50,224.59 L223.04,224.63 L223.60,224.82 L224.16,224.68 L224.72,225.10 L225.29,224.87 L225.86,225.36 L226.43,225.33 L226.99,225.25 L227.54,225.30 L228.08,225.60 L228.61,225.63 L229.12,225.83 L229.61,225.62 L230.08,226.09 L230.53,225.95 L230.95,226.03 L231.34,226.25 L231.70,226.25 L232.66,226.37 L233.44,226.45 L234.05,226.67 L234.53,226.55 L234.91,226.75 L235.22,227.10 L235.50,226.81" stroke="#2a2a2a" stroke-width="1.0" fill="none" stroke-linejoin="round"/>
<path d="M26.50,301.64 L26.66,302.86 L26.84,302.11 L27.04,302.37 L27.25,302.47 L27.48,302.69 L27.72,302.07 L27.97,302.80 L28.24,301.59 L28.52,302.96 L28.81,302.11 L29.11,302.63 L29.42,302.13 L29.74,302.86 L30.07,302.28 L30.41,302.66 L30.75,302.23 L31.09,303.06 L31.44,302.99 L31.80,302.09 L32.15,302.99 L32.51,303.31 L32.87,302.20 L33.23,302.14 L33.59,303.34 L33.95,303.41 L34.31,302.09 L34.67,303.14 L35.02,303.40 L35.36,302.34 L35.70,303.18 L36.04,302.42 L36.37,303.22 L36.69,302.78 L37.00,302.73 L37.30,302.18 L37.59,303.03 L37.87,303.12 L38.14,302.46 L38.40,302.07 L38.79,302.15 L39.17,302.41 L39.54,303.59 L39.91,303.18 L40.28,303.41 L40.64,303.17 L40.99,302.17 L41.33,302.56 L41.67,303.45 L42.00,303.28 L42.32,303.48 L42.64,303.19 L42.95,303.00 L43.25,303.06 L43.54,303.28 L43.83,302.48 L44.10,301.83 L44.37,302.25 L44.63,301.75 L44.88,302.14 L45.12,302.63 L45.36,302.10 L45.58,302.04 L45.80,301.77 L46.00,302.17 L46.55,302.38 L46.98,302.47 L47.32,303.00 L47.57,301.58 L47.79,301.82 L47.98,301.45 L48.17,302.68 L48.40,302.01 L48.57,301.86 L48.72,301.88 L48.86,300.32 L48.98,301.46 L49.10,300.24 L49.22,300.40 L49.35,299.72 L49.48,299.96 L49.63,298.96 L49.80,298.67 L50.00,298.40 L50.22,298.98 L50.46,298.40 L50.72,297.79 L50.99,298.00 L51.27,298.24 L51.56,297.84 L51.85,298.09 L52.14,298.39 L52.44,297.94 L52.72,298.06 L53.00,297.09 L53.23,297.82 L53.47,297.75 L53.71,296.89 L53.95,295.87 L54.19,295.74 L54.44,296.59 L54.68,296.53 L54.91,296.07 L55.14,295.49 L55.37,295.31 L55.59,294.41 L55.80,294.96 L56.00,295.40 L56.24,293.84 L56.47,294.16 L56.67,294.19 L56.87,293.52 L57.06,292.70 L57.25,292.22 L57.45,292.77 L57.65,292.92 L57.87,292.76 L58.10,292.04 L58.24,292.68 L58.39,292.91 L58.53,292.39 L58.68,293.20 L58.83,292.85 L58.98,292.82 L59.13,292.78 L59.29,294.25 L59.45,294.61 L59.61,293.80 L59.78,294.16 L59.95,294.91 L60.13,295.06 L60.31,296.21 L60.50,295.65 L60.70,296.57 L60.90,296.78 L61.09,296.69 L61.28,297.75 L61.48,297.35 L61.68,297.74 L61.89,298.27 L62.11,298.13 L62.32,298.07 L62.54,299.57 L62.77,299.53 L63.00,299.46 L63.22,299.63 L63.46,300.06 L63.69,299.76 L63.92,299.60 L64.16,300.52 L64.39,301.23 L64.63,300.05 L64.87,301.54 L65.10,300.60 L65.34,301.60 L65.58,301.20 L65.83,300.35 L66.08,300.17 L66.33,301.14 L66.59,301.16 L66.85,300.73 L67.11,300.20 L67.37,299.95 L67.63,300.12 L67.89,299.96 L68.14,299.74 L68.39,298.61 L68.64,299.20 L68.89,299.13 L69.13,298.23 L69.36,297.03 L69.58,297.01 L69.80,297.44 L69.94,296.87 L70.08,297.42 L70.21,296.73 L70.35,296.57 L70.49,295.41 L70.62,295.73 L70.75,295.73 L70.88,295.75 L71.01,295.41 L71.14,294.07 L71.27,294.13 L71.39,294.56 L71.52,292.81 L71.64,292.45 L71.76,292.29 L71.88,292.84 L71.99,291.86 L72.11,292.15 L72.22,292.02 L72.33,291.68 L72.44,290.15 L72.54,290.89 L72.64,290.78 L72.74,290.36 L72.84,290.36 L72.93,290.04 L73.03,289.49 L73.11,289.68 L73.20,288.97 L73.45,287.72 L73.66,287.53 L73.83,288.17 L73.98,286.89 L74.12,286.86 L74.25,287.32 L74.38,286.91 L74.53,287.04 L74.70,286.55 L74.84,286.75 L74.98,286.37 L75.12,286.99 L75.26,287.43 L75.40,288.58 L75.55,289.11 L75.70,288.89 L75.85,290.20 L76.01,289.64 L76.17,290.23 L76.33,289.57 L76.50,289.96 L76.54,289.31 L76.59,290.43 L76.63,289.34 L76.67,289.89 L76.72,289.06 L76.77,288.65 L76.81,289.23 L76.86,288.06 L76.91,288.17 L76.96,288.07 L77.01,288.33 L77.06,287.55 L77.11,286.18 L77.16,286.48 L77.21,286.92 L77.26,286.41 L77.31,285.26 L77.36,284.50 L77.41,284.35 L77.46,284.74 L77.51,283.43 L77.57,284.18 L77.62,282.78 L77.67,283.06 L77.72,282.67 L77.77,281.56 L77.82,281.61 L77.87,281.39 L77.92,280.43 L77.97,280.47 L78.02,280.25 L78.07,280.41 L78.12,278.97 L78.17,278.44 L78.22,278.64 L78.26,278.45 L78.31,277.95 L78.35,278.33 L78.40,276.89 L78.44,277.11 L78.49,276.78 L78.53,276.10 L78.57,276.28 L78.61,276.07 L78.65,275.75 L78.69,276.22 L78.73,276.41 L78.76,276.25 L78.80,274.95 L78.89,275.02 L78.96,275.90 L79.04,274.57 L79.10,274.74 L79.16,274.95 L79.22,276.69 L79.27,276.34 L79.32,276.65 L79.37,276.57 L79.42,278.31 L79.46,278.98 L79.51,278.98 L79.56,279.82 L79.61,279.71 L79.66,279.71 L79.71,279.86 L79.77,280.35 L79.83,280.31 L79.90,280.79 L80.04,280.26 L80.18,279.95 L80.32,280.84 L80.48,280.17 L80.63,279.49 L80.79,278.18 L80.96,277.90 L81.13,277.83 L81.31,278.30 L81.50,277.99 L81.54,278.45 L81.57,278.66 L81.61,279.29 L81.64,278.69 L81.68,278.33 L81.71,279.18 L81.75,280.17 L81.79,279.27 L81.82,280.24 L81.86,279.71 L81.90,280.21 L81.94,281.05 L81.97,280.51 L82.01,281.37 L82.05,281.90 L82.09,281.90 L82.12,282.81 L82.16,283.29 L82.20,282.72 L82.24,283.83 L82.28,284.18 L82.32,284.28 L82.36,284.63 L82.40,284.95 L82.44,285.60 L82.48,285.89 L82.52,285.58 L82.56,286.56 L82.60,287.03 L82.64,287.01 L82.68,288.07 L82.72,287.51 L82.77,288.26 L82.81,288.65 L82.85,289.07 L82.89,288.76 L82.94,289.89 L82.98,289.36 L83.02,290.37 L83.06,290.58 L83.11,291.31 L83.15,291.90 L83.20,292.42 L83.24,291.52 L83.29,292.91 L83.33,292.51 L83.38,292.84 L83.42,292.38 L83.47,293.95 L83.51,293.19 L83.56,293.51 L83.61,293.78 L83.65,293.88 L83.70,294.16 L83.85,294.75 L84.01,295.70 L84.16,295.94 L84.32,297.06 L84.49,297.79 L84.65,298.19 L84.82,297.66 L84.99,298.47 L85.16,298.83 L85.34,299.05 L85.51,298.72 L85.69,298.53 L85.87,299.53 L86.05,299.41 L86.23,298.92 L86.42,299.37 L86.60,298.31 L86.70,299.37 L86.80,299.46 L86.90,299.46 L87.01,297.95 L87.12,298.72 L87.22,298.69 L87.33,297.48 L87.44,298.03 L87.55,297.14 L87.67,296.96 L87.78,296.41 L87.89,296.56 L88.00,297.20 L88.12,296.50 L88.23,296.54 L88.34,296.52 L88.46,294.89 L88.57,295.68 L88.68,295.43 L88.79,294.70 L88.90,293.85 L89.01,293.24 L89.12,293.30 L89.22,292.83 L89.33,292.29 L89.43,292.57 L89.53,292.13 L89.63,291.15 L89.73,290.63 L89.82,290.77 L89.91,290.72 L90.00,290.26 L90.05,289.98 L90.11,290.14 L90.16,289.67 L90.21,288.90 L90.26,289.11 L90.31,288.71 L90.36,287.91 L90.41,287.34 L90.46,287.39 L90.50,287.63 L90.55,287.38 L90.60,286.36 L90.64,286.43 L90.69,285.37 L90.73,285.88 L90.78,285.32 L90.82,285.51 L90.87,285.33 L90.91,283.71 L90.95,284.83 L90.99,283.23 L91.04,284.16 L91.08,283.86 L91.12,282.30 L91.16,282.08 L91.20,281.51 L91.24,282.39 L91.28,281.81 L91.32,281.81 L91.36,281.22 L91.40,280.17 L91.44,280.51 L91.48,279.51 L91.52,279.14 L91.55,278.97 L91.59,279.09 L91.63,278.16 L91.67,278.23 L91.71,277.93 L91.74,277.99 L91.78,277.17 L91.82,276.80 L91.86,276.72 L91.90,276.28 L91.93,276.44 L91.97,275.17 L92.01,275.01 L92.05,274.53 L92.09,274.87 L92.12,275.33 L92.16,274.69 L92.20,274.52 L92.28,274.54 L92.35,273.91 L92.42,272.61 L92.49,272.04 L92.56,272.10 L92.63,271.16 L92.70,271.31 L92.77,270.06 L92.83,270.14 L92.90,270.27 L92.96,269.13 L93.03,268.59 L93.09,269.19 L93.16,267.97 L93.22,268.78 L93.29,268.03 L93.36,268.20 L93.42,267.38 L93.49,267.09 L93.56,266.54 L93.63,266.06 L93.70,267.37 L93.77,266.10 L93.85,265.82 L93.92,267.17 L94.00,266.56 L94.06,266.67 L94.12,267.29 L94.18,267.08 L94.24,266.44 L94.31,266.62 L94.37,267.37 L94.43,267.59 L94.49,267.06 L94.56,267.32 L94.62,267.97 L94.68,267.50 L94.75,268.96 L94.81,269.01 L94.88,268.49 L94.94,269.49 L95.01,269.83 L95.08,269.35 L95.14,270.24 L95.21,271.17 L95.28,271.00 L95.35,271.80 L95.42,271.38 L95.49,272.99 L95.56,272.85 L95.63,273.06 L95.70,272.58 L95.77,273.52 L95.85,273.35 L95.92,274.45 L95.99,274.42 L96.07,274.93 L96.15,275.42 L96.22,275.55 L96.30,276.15 L96.35,276.75 L96.40,276.42 L96.45,277.37 L96.50,278.27 L96.55,278.19 L96.60,278.85 L96.65,277.80 L96.70,279.00 L96.76,278.64 L96.81,280.08 L96.86,279.70 L96.92,280.40 L96.97,280.83 L97.02,280.14 L97.08,280.44 L97.13,281.93 L97.19,282.30 L97.24,282.04 L97.30,281.75 L97.35,282.11 L97.41,283.72 L97.46,283.91 L97.52,283.76 L97.57,284.61 L97.63,285.18 L97.69,284.26 L97.74,285.80 L97.80,286.53 L97.86,286.71 L97.91,287.08 L97.97,286.72 L98.03,287.32 L98.09,286.87 L98.14,288.29 L98.20,288.40 L98.26,288.31 L98.32,288.05 L98.37,288.56 L98.43,289.22 L98.49,290.33 L98.55,289.89 L98.61,290.79 L98.66,289.97 L98.72,290.32 L98.78,290.53 L98.84,290.84 L98.90,291.86 L98.95,291.38 L99.01,291.49 L99.07,292.24 L99.13,292.02 L99.18,292.86 L99.24,292.70 L99.30,293.03 L99.47,292.67 L99.65,292.84 L99.83,293.10 L100.01,294.05 L100.19,294.02 L100.37,293.39 L100.56,293.18 L100.74,292.35 L100.92,293.39 L101.11,292.71 L101.29,292.05 L101.47,291.25 L101.65,291.26 L101.83,291.11 L102.00,289.80 L102.17,289.14 L102.34,288.81 L102.50,287.99 L102.53,287.03 L102.57,286.93 L102.60,287.24 L102.64,287.57 L102.67,286.84 L102.71,286.05 L102.74,286.19 L102.78,285.89 L102.81,286.58 L102.85,285.49 L102.88,286.45 L102.91,285.10 L102.95,284.68 L102.98,284.17 L103.01,284.66 L103.05,284.44 L103.08,284.60 L103.11,284.15 L103.15,283.67 L103.18,282.61 L103.21,283.72 L103.25,282.35 L103.28,282.03 L103.31,281.64 L103.35,282.01 L103.38,281.81 L103.41,280.97 L103.44,280.56 L103.48,279.86 L103.51,280.48 L103.54,280.35 L103.57,279.09 L103.61,278.96 L103.64,279.45 L103.67,279.06 L103.70,277.81 L103.73,278.85 L103.76,278.08 L103.80,277.75 L103.83,276.78 L103.86,277.48 L103.89,276.30 L103.92,276.27 L103.95,276.49 L103.98,275.91 L104.02,274.52 L104.05,274.10 L104.08,273.88 L104.11,273.40 L104.14,274.28 L104.17,273.39 L104.20,272.94 L104.23,272.42 L104.26,272.28 L104.29,271.85 L104.32,271.97 L104.35,271.13 L104.38,271.51 L104.41,271.14 L104.44,270.83 L104.47,270.30 L104.50,269.04 L104.53,269.11 L104.56,269.44 L104.59,268.34 L104.62,268.35 L104.65,267.45 L104.67,268.10 L104.70,266.99 L104.73,266.71 L104.76,267.12 L104.79,265.64 L104.82,265.19 L104.85,265.55 L104.88,265.27 L104.90,264.43 L104.93,264.58 L104.96,264.88 L104.99,264.76 L105.02,264.53 L105.04,264.04 L105.07,262.60 L105.10,262.78 L105.13,262.59 L105.16,261.58 L105.20,262.45 L105.23,261.31 L105.26,261.77 L105.29,261.25 L105.32,260.25 L105.35,260.02 L105.38,259.84 L105.41,259.08 L105.45,258.42 L105.48,258.72 L105.51,258.05 L105.54,257.73 L105.57,258.22 L105.60,257.78 L105.62,256.89 L105.65,255.90 L105.68,256.72 L105.71,255.55 L105.74,254.93 L105.77,255.60 L105.80,255.48 L105.83,254.08 L105.86,254.17 L105.89,254.36 L105.91,253.41 L105.94,252.77 L105.97,252.11 L106.00,251.54 L106.03,252.57 L106.05,252.09 L106.08,250.73 L106.11,251.12 L106.14,250.05 L106.16,250.59 L106.19,249.66 L106.22,249.83 L106.25,249.24 L106.27,248.19 L106.30,248.64 L106.33,248.45 L106.35,247.16 L106.38,246.84 L106.41,246.90 L106.43,247.32 L106.46,247.43 L106.49,246.29 L106.51,246.66 L106.54,246.14 L106.57,245.16 L106.59,245.17 L106.62,245.54 L106.65,244.70 L106.67,244.49 L106.70,244.59 L106.73,243.43 L106.75,243.70 L106.78,243.57 L106.81,243.43 L106.83,243.42 L106.86,242.55 L106.89,242.68 L106.91,242.48 L106.94,241.73 L106.97,242.66 L106.99,242.77 L107.02,241.99 L107.05,241.61 L107.07,241.41 L107.10,241.43 L107.21,240.92 L107.32,240.56 L107.43,241.59 L107.55,240.73 L107.66,240.67 L107.78,241.67 L107.90,241.00 L108.01,241.99 L108.12,242.80 L108.23,243.73 L108.34,243.44 L108.44,243.58 L108.54,245.56 L108.62,244.52 L108.71,245.61 L108.78,246.13 L108.84,247.18 L108.90,246.37" stroke="#d41c1c" stroke-width="1.3" fill="none" stroke-linejoin="round"/>
<path d="M108.90,246.19 L108.93,246.10 L108.97,246.06 L109.01,245.50 L109.05,246.49 L109.10,245.63 L109.15,245.74 L109.20,244.74 L109.25,245.08 L109.31,245.18 L109.36,243.78 L109.42,244.62 L109.48,243.22 L109.55,243.57 L109.61,243.58 L109.68,242.45 L109.75,242.83 L109.81,241.60 L109.89,241.29 L109.96,241.69 L110.03,240.78 L110.10,239.51 L110.18,239.27 L110.25,239.49 L110.33,238.79 L110.41,237.94 L110.48,238.76 L110.56,237.58 L110.64,238.12 L110.71,236.87 L110.79,236.20 L110.87,236.21 L110.94,236.49 L111.02,236.25 L111.10,235.35 L111.17,234.51 L111.25,234.62 L111.32,233.87 L111.39,233.72 L111.46,232.86 L111.53,232.59 L111.60,233.79 L111.67,233.27 L111.74,232.19 L111.80,232.57 L111.86,231.45 L111.93,232.52 L111.99,232.02 L112.04,232.05 L112.10,231.46 L112.15,231.37 L112.20,231.91 L112.28,231.01 L112.36,230.56 L112.44,230.58 L112.51,231.85 L112.58,230.85 L112.64,230.55 L112.70,231.43 L112.76,230.84 L112.82,231.45 L112.87,232.16 L112.92,231.49 L112.97,232.01 L113.02,233.07 L113.07,233.24 L113.12,233.54 L113.17,232.55 L113.21,234.40 L113.26,234.13 L113.31,233.89 L113.36,235.68 L113.41,234.77 L113.46,236.65 L113.52,235.66 L113.57,236.30 L113.63,237.52 L113.69,238.35 L113.76,238.96 L113.83,240.00 L113.90,239.57 L113.92,240.75 L113.94,240.31 L113.96,241.52 L113.98,241.21 L114.00,241.53 L114.02,240.85 L114.04,242.33 L114.06,241.56 L114.08,241.66 L114.10,242.24 L114.13,243.06 L114.15,242.58 L114.17,243.07 L114.19,243.54 L114.21,243.22 L114.23,243.28 L114.26,244.01 L114.28,244.78 L114.30,245.00 L114.32,244.53 L114.35,245.53 L114.37,246.10 L114.39,246.18 L114.41,245.64 L114.44,245.71 L114.46,247.52 L114.48,247.38 L114.51,246.99 L114.53,248.05 L114.55,248.10 L114.58,248.50 L114.60,248.38 L114.62,249.20 L114.65,249.06 L114.67,249.39 L114.70,249.62 L114.72,250.60 L114.74,251.13 L114.77,250.55 L114.79,250.54 L114.82,251.16 L114.84,252.30 L114.87,252.00 L114.89,251.79 L114.91,253.46 L114.94,253.15 L114.96,252.91 L114.99,254.34 L115.01,254.30 L115.04,255.19 L115.06,255.52 L115.09,255.85 L115.11,256.29 L115.14,255.84 L115.16,256.87 L115.19,256.72 L115.21,257.32 L115.24,256.97 L115.26,257.97 L115.29,257.44 L115.31,259.04 L115.34,258.30 L115.36,259.27 L115.39,260.06 L115.41,260.38 L115.44,260.77 L115.46,260.43 L115.49,260.20 L115.51,262.01 L115.54,261.26 L115.57,262.50 L115.59,262.11 L115.62,262.50 L115.64,263.00 L115.67,263.34 L115.69,264.05 L115.72,264.07 L115.74,263.73 L115.77,264.64 L115.79,264.26 L115.82,265.80 L115.84,265.04 L115.87,265.66 L115.89,266.33 L115.92,266.25 L115.94,267.44 L115.97,267.59 L115.99,267.16 L116.02,267.61 L116.04,268.41 L116.07,268.34 L116.09,268.83 L116.12,268.64 L116.14,269.30 L116.16,269.62 L116.19,270.39 L116.21,269.79 L116.24,270.78 L116.26,270.11 L116.29,270.49 L116.31,270.66 L116.33,272.03 L116.36,270.95 L116.38,271.50 L116.41,272.03 L116.43,272.65 L116.45,272.81 L116.48,272.17 L116.50,272.82 L116.55,273.82 L116.60,273.35 L116.65,273.77 L116.70,275.33 L116.74,274.45 L116.79,275.00 L116.84,275.59 L116.88,277.03 L116.93,276.65 L116.98,277.18 L117.02,277.74 L117.07,278.68 L117.11,277.69 L117.16,278.30 L117.20,278.99 L117.25,279.72 L117.29,279.25 L117.34,280.07 L117.38,280.61 L117.43,280.13 L117.47,280.87 L117.52,280.75 L117.56,282.41 L117.61,281.27 L117.65,281.80 L117.70,282.81 L117.74,282.48 L117.79,283.30 L117.84,283.20 L117.88,284.50 L117.93,284.08 L117.98,283.99 L118.03,283.96 L118.07,284.69 L118.12,285.39 L118.17,285.54 L118.22,285.75 L118.27,285.67 L118.32,286.56 L118.38,285.92 L118.43,286.37 L118.48,287.23 L118.54,287.16 L118.59,286.86 L118.65,287.57 L118.70,287.72 L118.76,287.15 L118.82,287.50 L118.88,288.26 L118.94,287.82 L119.00,287.96 L119.21,288.81 L119.42,288.56 L119.64,289.27 L119.85,290.78 L120.08,289.88 L120.31,291.01 L120.54,289.91 L120.79,290.52 L121.04,290.94 L121.30,290.67 L121.57,291.70 L121.86,291.71 L122.16,290.61 L122.47,290.30 L122.80,291.47 L122.99,291.21 L123.19,290.67 L123.39,289.81 L123.60,289.58 L123.81,290.49 L124.03,290.28 L124.26,289.72 L124.48,289.27 L124.71,288.93 L124.95,288.83 L125.19,288.64 L125.43,288.68 L125.67,288.09 L125.92,287.70 L126.16,287.25 L126.41,287.68 L126.66,287.87 L126.91,286.42 L127.16,287.14 L127.40,286.72 L127.65,285.87 L127.90,285.54 L128.14,286.52 L128.39,285.30 L128.63,285.16 L128.87,285.06 L129.10,286.20 L129.33,285.52 L129.56,284.97 L129.79,285.50 L130.02,286.00 L130.25,286.07 L130.48,285.71 L130.70,287.01 L130.93,286.97 L131.15,286.52 L131.38,286.83 L131.60,286.97 L131.83,286.85 L132.06,288.06 L132.28,287.78 L132.51,288.67 L132.74,289.22 L132.97,288.65 L133.20,288.85 L133.44,289.23 L133.67,289.64 L133.91,289.18 L134.15,289.93 L134.40,289.99 L134.64,289.84 L134.89,291.13 L135.14,291.03 L135.40,290.78 L135.68,290.19 L135.96,291.29 L136.25,290.78 L136.54,291.62 L136.84,291.26 L137.14,290.62 L137.44,291.44 L137.74,291.18 L138.04,290.78 L138.35,291.45 L138.66,290.67 L138.97,290.32 L139.28,290.10 L139.59,290.95 L139.90,290.32 L140.22,290.05 L140.53,289.79 L140.84,290.84 L141.15,289.95 L141.47,290.76 L141.78,290.69 L142.08,290.44 L142.39,289.35 L142.70,290.36 L143.00,289.70 L143.24,289.93 L143.47,289.88 L143.71,288.77 L143.95,288.67 L144.19,289.31 L144.43,288.13 L144.67,287.60 L144.91,287.27 L145.15,287.86 L145.39,287.21 L145.63,287.98 L145.87,286.22 L146.11,286.58 L146.35,286.82 L146.59,286.39 L146.83,286.49 L147.07,285.94 L147.31,286.04 L147.54,285.94 L147.78,285.53 L148.01,284.89 L148.25,284.34 L148.48,284.34 L148.71,283.65 L148.94,283.52 L149.17,283.78 L149.40,283.51 L149.62,283.30 L149.84,282.71 L150.06,284.06 L150.28,282.96 L150.50,283.17 L150.77,282.95 L151.03,283.31 L151.30,283.73 L151.57,284.07 L151.83,283.66 L152.10,284.33 L152.36,283.59 L152.63,283.94 L152.89,283.93 L153.15,285.16 L153.41,284.05 L153.67,284.45 L153.92,285.58 L154.17,284.99 L154.41,284.98 L154.66,285.73 L154.90,286.15 L155.13,286.40 L155.36,286.31 L155.58,286.74 L155.80,286.89 L156.01,286.94 L156.22,287.68 L156.42,287.43 L156.61,287.55 L156.80,288.89 L157.15,289.12 L157.46,288.64 L157.74,289.21 L157.99,288.86 L158.23,289.06 L158.45,290.16 L158.66,291.12 L158.87,289.96 L159.07,290.73 L159.28,291.37 L159.51,290.15 L159.74,291.00 L160.00,290.32 L160.12,291.00 L160.24,290.98 L160.36,290.93 L160.49,290.59 L160.62,289.30 L160.75,290.00 L160.89,289.62 L161.02,288.97 L161.16,288.56 L161.29,288.73 L161.43,288.37 L161.57,288.06 L161.71,288.63 L161.84,287.17 L161.98,287.86 L162.12,286.40 L162.25,286.95 L162.39,286.22 L162.52,285.81 L162.65,285.62 L162.78,284.73 L162.91,284.54 L163.03,284.52 L163.15,283.84 L163.27,284.56 L163.38,284.00 L163.49,283.59 L163.60,283.39 L163.70,282.24 L163.80,281.72 L163.90,281.54 L163.99,282.55 L164.07,281.64 L164.16,282.14 L164.23,280.83 L164.31,280.66 L164.38,280.82 L164.45,280.87 L164.52,279.94 L164.58,279.76 L164.64,279.29 L164.70,278.84 L164.76,279.64 L164.82,279.37 L164.87,278.35 L164.93,277.60 L164.98,278.49 L165.03,277.55 L165.09,277.72 L165.14,276.89 L165.20,276.05 L165.26,276.81 L165.31,275.46 L165.37,276.47 L165.43,274.91 L165.50,274.84 L165.56,273.94 L165.63,273.93 L165.70,274.24 L165.75,273.10 L165.79,272.88 L165.84,272.53 L165.89,272.19 L165.94,272.72 L165.99,271.98 L166.04,272.54 L166.09,272.13 L166.14,271.56 L166.19,271.94 L166.25,271.71 L166.30,270.35 L166.35,270.79 L166.40,270.35 L166.46,269.23 L166.51,269.87 L166.56,268.35 L166.62,269.05 L166.67,269.10 L166.72,268.37 L166.78,268.12 L166.83,267.74 L166.88,267.01 L166.94,266.21 L166.99,266.31 L167.04,265.88 L167.10,266.35 L167.15,266.14 L167.20,265.96 L167.26,264.62 L167.31,265.20 L167.36,264.89 L167.41,263.16 L167.46,263.69 L167.51,262.66 L167.57,262.32 L167.62,262.60 L167.67,262.72 L167.72,261.58 L167.76,261.51 L167.81,261.48 L167.86,261.30 L167.91,260.34 L167.95,260.15 L168.00,259.62 L168.06,259.77 L168.12,260.50 L168.17,258.89 L168.23,259.47 L168.28,258.98 L168.34,259.00 L168.39,258.59 L168.45,257.10 L168.50,257.22 L168.55,257.72 L168.60,257.11 L168.65,257.15 L168.71,255.54 L168.76,256.53 L168.81,255.53 L168.86,255.87 L168.91,255.25 L168.96,254.60 L169.01,254.59 L169.05,253.50 L169.10,254.67 L169.15,254.29 L169.20,253.65 L169.25,253.37 L169.30,253.23 L169.35,252.47 L169.40,251.87 L169.45,252.24 L169.50,252.49 L169.55,252.03 L169.60,251.63 L169.65,250.33 L169.70,250.28 L169.75,249.94 L169.80,250.10 L169.85,250.33 L169.91,249.57 L169.96,249.20 L170.01,248.63 L170.06,247.91 L170.11,247.73 L170.16,248.56 L170.21,248.12 L170.26,247.38 L170.31,247.12 L170.36,246.06 L170.41,245.41 L170.46,245.09 L170.51,244.76 L170.56,244.74 L170.61,245.67 L170.66,244.70 L170.71,243.82 L170.77,243.30 L170.82,242.87 L170.87,242.56 L170.93,242.45 L170.98,242.48 L171.04,241.89 L171.09,241.72 L171.15,242.06 L171.21,240.99 L171.27,240.72 L171.34,241.47 L171.40,240.41 L171.46,240.71 L171.53,239.90 L171.60,240.31 L171.71,238.84 L171.82,238.86 L171.93,239.40 L172.04,238.07 L172.16,238.20 L172.28,237.09 L172.40,236.51 L172.52,236.60 L172.65,236.25 L172.78,235.18 L172.91,235.60 L173.04,235.08 L173.17,234.66 L173.30,235.00 L173.44,234.95 L173.57,233.96 L173.71,233.62 L173.85,234.23 L173.98,234.13 L174.12,233.70 L174.26,233.89 L174.40,233.55 L174.48,234.23 L174.56,234.09 L174.64,234.64 L174.72,233.86 L174.80,233.62 L174.88,235.04 L174.96,234.75 L175.04,235.27 L175.12,235.36 L175.20,235.59 L175.28,235.14 L175.36,236.17 L175.44,236.00 L175.53,235.91 L175.61,235.78 L175.69,235.93 L175.78,236.42 L175.86,236.85 L175.95,237.16 L176.03,237.94 L176.11,238.80 L176.20,238.49 L176.29,238.99 L176.37,238.29 L176.46,239.74 L176.54,239.85 L176.63,240.62 L176.72,240.31 L176.81,241.18 L176.89,241.37 L176.98,242.21 L177.07,242.07 L177.16,243.12 L177.25,243.62 L177.34,243.52 L177.43,243.92 L177.52,244.70 L177.61,244.86 L177.70,246.05 L177.74,246.22 L177.78,245.74 L177.83,246.28 L177.87,245.58 L177.91,247.10 L177.96,246.89 L178.00,246.19 L178.04,246.41 L178.09,248.01 L178.13,248.16 L178.17,248.17 L178.22,248.09 L178.26,248.11 L178.31,248.77 L178.35,249.72 L178.39,249.56 L178.44,248.91 L178.48,249.46 L178.53,249.56 L178.57,251.10 L178.62,251.37 L178.66,251.79 L178.71,251.30 L178.75,251.43 L178.80,251.33 L178.84,251.95 L178.89,252.40 L178.93,252.79 L178.98,253.02 L179.02,253.96 L179.07,254.49 L179.12,254.04 L179.16,255.07 L179.21,254.55 L179.25,254.83 L179.30,256.01 L179.34,255.21 L179.39,255.51 L179.44,257.31 L179.48,256.80 L179.53,257.04 L179.57,257.95 L179.62,258.47 L179.67,257.97 L179.71,259.00 L179.76,258.25 L179.81,259.80 L179.85,259.37 L179.90,259.65 L179.94,259.39 L179.99,259.81 L180.04,260.66 L180.08,260.55 L180.13,261.75 L180.18,262.62 L180.22,261.81 L180.27,262.88 L180.31,262.94 L180.36,263.31 L180.41,263.89 L180.45,263.74 L180.50,264.61 L180.55,263.86 L180.59,265.01 L180.64,265.08 L180.68,264.87 L180.73,265.23 L180.78,266.68 L180.82,266.49 L180.87,266.57 L180.91,266.88 L180.96,267.73 L181.00,267.68 L181.05,267.32 L181.09,268.75 L181.14,268.89 L181.19,269.07 L181.23,269.23 L181.28,269.45 L181.32,269.16 L181.37,270.48 L181.41,270.32 L181.46,269.70 L181.50,271.00 L181.56,270.74 L181.62,270.51 L181.69,272.18 L181.75,271.48 L181.81,272.15 L181.87,271.98 L181.94,273.01 L182.00,273.38 L182.06,274.19 L182.12,274.74 L182.18,274.98 L182.24,274.97 L182.31,274.88 L182.37,276.08 L182.43,275.29 L182.49,275.76 L182.55,276.49 L182.61,276.51 L182.68,277.16 L182.74,276.76 L182.80,277.30 L182.86,277.26 L182.92,278.24 L182.98,278.25 L183.04,279.49 L183.10,278.91 L183.17,279.12 L183.23,280.27 L183.29,279.74 L183.35,281.07 L183.41,280.88 L183.47,280.56 L183.53,281.75 L183.60,282.52 L183.66,281.71 L183.72,282.39 L183.78,282.66 L183.84,283.59 L183.90,283.93 L183.96,282.72 L184.02,283.51 L184.09,284.46 L184.15,284.10 L184.21,284.51 L184.27,284.86 L184.33,284.23 L184.39,284.52 L184.46,286.14 L184.52,285.59 L184.58,285.91 L184.64,286.33 L184.70,286.87 L184.76,287.33 L184.83,286.26 L184.89,287.36 L184.95,286.57 L185.01,287.65 L185.08,288.30 L185.14,287.96 L185.20,287.99 L185.35,289.25 L185.50,289.44 L185.64,290.22 L185.77,290.02 L185.90,290.02 L186.02,290.97 L186.15,290.97 L186.27,290.49 L186.39,290.97 L186.52,292.56 L186.64,292.30 L186.77,291.55 L186.91,292.92 L187.05,293.13 L187.20,292.19 L187.35,293.89 L187.52,292.76 L187.69,293.47 L187.87,293.97 L188.07,293.78 L188.28,293.73 L188.50,294.11 L188.74,294.53 L189.00,295.22 L189.22,295.25 L189.44,295.56 L189.67,295.39 L189.90,294.99 L190.15,294.90 L190.39,295.90 L190.65,296.02 L190.91,295.12 L191.18,295.98 L191.45,295.37 L191.73,294.98 L192.02,295.72 L192.30,296.48 L192.60,295.97 L192.90,296.48 L193.20,296.59 L193.51,296.59 L193.83,295.85 L194.15,296.90 L194.47,295.64 L194.80,296.37 L195.13,295.76 L195.46,296.30 L195.80,297.17 L196.14,297.12 L196.49,297.48 L196.84,296.86 L197.19,296.87 L197.54,296.38 L197.90,296.98 L198.16,297.71 L198.42,296.87 L198.68,297.75 L198.95,296.94 L199.21,297.80 L199.48,296.88 L199.76,298.18 L200.03,296.90 L200.31,296.90 L200.59,297.76 L200.87,298.15 L201.16,298.11 L201.44,297.69 L201.73,298.25 L202.02,297.50 L202.32,297.77 L202.61,297.77 L202.91,297.74 L203.21,297.51 L203.51,297.85 L203.81,298.44 L204.12,298.61 L204.42,298.24 L204.73,298.75 L205.04,298.37 L205.35,299.19 L205.66,297.98 L205.98,299.26 L206.29,299.53 L206.61,299.08 L206.93,299.23 L207.25,299.84 L207.57,298.56 L207.89,298.54 L208.21,299.25 L208.54,299.65 L208.86,299.41 L209.19,299.38 L209.51,299.35 L209.84,299.44 L210.17,300.16 L210.50,298.91 L210.78,299.89 L211.06,299.02 L211.35,300.26 L211.64,299.37 L211.93,300.26 L212.23,299.53 L212.53,300.07 L212.83,299.90 L213.13,300.64 L213.44,299.90 L213.75,300.00 L214.06,300.01 L214.37,299.64 L214.69,300.77 L215.00,299.84 L215.32,299.56 L215.64,299.68 L215.96,300.52 L216.28,300.84 L216.60,300.37 L216.92,300.98 L217.24,299.83 L217.56,300.91 L217.89,300.75 L218.21,299.89 L218.53,299.71 L218.85,300.27 L219.17,300.28 L219.48,300.42 L219.80,300.81 L220.12,300.04 L220.43,300.11 L220.74,300.25 L221.05,300.00 L221.36,300.47 L221.66,300.75 L221.97,300.24 L222.27,300.05 L222.57,301.02 L222.86,300.01 L223.15,301.27 L223.44,300.90 L223.72,300.30 L224.00,299.98 L224.28,301.34 L224.55,300.04 L224.82,301.24 L225.09,300.91 L225.35,301.18 L225.60,300.42 L225.98,301.31 L226.36,300.58 L226.74,301.16 L227.12,301.79 L227.50,301.24 L227.88,300.58 L228.25,300.75 L228.62,301.06 L228.99,301.77 L229.35,301.76 L229.71,301.15 L230.07,301.50 L230.42,301.17 L230.76,301.42 L231.10,301.18 L231.43,302.23 L231.76,301.35 L232.07,301.29 L232.38,301.82 L232.69,301.21 L232.98,301.07 L233.27,301.63 L233.54,302.28 L233.81,301.57 L234.07,301.47 L234.31,301.51 L234.55,302.03 L234.77,301.53 L234.98,301.97 L235.18,301.96 L235.37,301.23 L235.54,301.70 L235.70,302.51" stroke="#d41c1c" stroke-width="1.3" fill="none" stroke-linejoin="round"/>
<rect x="26.5" y="4.6" width="209.20" height="300.60" fill="none" stroke="#969696" stroke-width="1"/>
<text transform="translate(42.06,22.00) rotate(-90) scale(0.84,1)" font-family='"Liberation Sans", sans-serif' font-size="8.0" fill="#111" font-weight="normal" stroke="#111" stroke-width="0.2">144</text>
<text transform="translate(67.86,75.50) rotate(-90) scale(0.84,1)" font-family='"Liberation Sans", sans-serif' font-size="8.0" fill="#111" font-weight="normal" stroke="#111" stroke-width="0.2">245</text>
<text transform="translate(85.96,73.20) rotate(-90) scale(0.84,1)" font-family='"Liberation Sans", sans-serif' font-size="8.0" fill="#111" font-weight="normal" stroke="#111" stroke-width="0.2">326</text>
<text transform="translate(107.96,68.80) rotate(-90) scale(0.84,1)" font-family='"Liberation Sans", sans-serif' font-size="8.0" fill="#111" font-weight="normal" stroke="#111" stroke-width="0.2">403</text>
<text transform="translate(137.56,68.00) rotate(-90) scale(0.84,1)" font-family='"Liberation Sans", sans-serif' font-size="8.0" fill="#111" font-weight="normal" stroke="#111" stroke-width="0.2">516</text>
<text transform="translate(169.26,58.60) rotate(-90) scale(0.84,1)" font-family='"Liberation Sans", sans-serif' font-size="8.0" fill="#111" font-weight="normal" stroke="#111" stroke-width="0.2">639</text>
<text transform="translate(63.76,157.50) rotate(-90) scale(0.84,1)" font-family='"Liberation Sans", sans-serif' font-size="8.0" fill="#111" font-weight="normal" stroke="#111" stroke-width="0.2">234</text>
<text transform="translate(74.46,184.80) rotate(-90) scale(0.84,1)" font-family='"Liberation Sans", sans-serif' font-size="8.0" fill="#111" font-weight="normal" stroke="#111" stroke-width="0.2">262</text>
<text transform="translate(92.46,195.50) rotate(-90) scale(0.84,1)" font-family='"Liberation Sans", sans-serif' font-size="8.0" fill="#111" font-weight="normal" stroke="#111" stroke-width="0.2">342</text>
<text transform="translate(105.96,184.00) rotate(-90) scale(0.84,1)" font-family='"Liberation Sans", sans-serif' font-size="8.0" fill="#111" font-weight="normal" stroke="#111" stroke-width="0.2">405</text>
<text transform="translate(114.96,181.30) rotate(-90) scale(0.84,1)" font-family='"Liberation Sans", sans-serif' font-size="8.0" fill="#111" font-weight="normal" stroke="#111" stroke-width="0.2">424</text>
<text transform="translate(138.26,213.40) rotate(-90) scale(0.84,1)" font-family='"Liberation Sans", sans-serif' font-size="8.0" fill="#111" font-weight="normal" stroke="#111" stroke-width="0.2">517</text>
<text transform="translate(177.06,176.80) rotate(-90) scale(0.84,1)" font-family='"Liberation Sans", sans-serif' font-size="8.0" fill="#111" font-weight="normal" stroke="#111" stroke-width="0.2">671</text>
<text transform="translate(200.96,205.00) rotate(-90) scale(0.84,1)" font-family='"Liberation Sans", sans-serif' font-size="8.0" fill="#111" font-weight="normal" stroke="#111" stroke-width="0.2">748</text>
<text transform="translate(61.06,285.00) rotate(-90) scale(0.84,1)" font-family='"Liberation Sans", sans-serif' font-size="8.0" fill="#111" font-weight="normal" stroke="#111" stroke-width="0.2">220</text>
<text transform="translate(75.06,282.20) rotate(-90) scale(0.84,1)" font-family='"Liberation Sans", sans-serif' font-size="8.0" fill="#111" font-weight="normal" stroke="#111" stroke-width="0.2">283</text>
<text transform="translate(84.56,268.70) rotate(-90) scale(0.84,1)" font-family='"Liberation Sans", sans-serif' font-size="8.0" fill="#111" font-weight="normal" stroke="#111" stroke-width="0.2">300/311</text>
<text transform="translate(96.26,258.20) rotate(-90) scale(0.84,1)" font-family='"Liberation Sans", sans-serif' font-size="8.0" fill="#111" font-weight="normal" stroke="#111" stroke-width="0.2">358</text>
<text transform="translate(107.36,234.70) rotate(-90) scale(0.84,1)" font-family='"Liberation Sans", sans-serif' font-size="8.0" fill="#111" font-weight="normal" stroke="#111" stroke-width="0.2">409</text>
<text transform="translate(114.06,222.90) rotate(-90) scale(0.84,1)" font-family='"Liberation Sans", sans-serif' font-size="8.0" fill="#111" font-weight="normal" stroke="#111" stroke-width="0.2">430</text>
<text transform="translate(134.06,276.90) rotate(-90) scale(0.84,1)" font-family='"Liberation Sans", sans-serif' font-size="8.0" fill="#111" font-weight="normal" stroke="#111" stroke-width="0.2">494</text>
<text transform="translate(154.26,275.60) rotate(-90) scale(0.84,1)" font-family='"Liberation Sans", sans-serif' font-size="8.0" fill="#111" font-weight="normal" stroke="#111" stroke-width="0.2">575</text>
<text transform="translate(176.86,228.90) rotate(-90) scale(0.84,1)" font-family='"Liberation Sans", sans-serif' font-size="8.0" fill="#111" font-weight="normal" stroke="#111" stroke-width="0.2">668</text>
<text transform="translate(41.86,142.80) rotate(-90) scale(0.92,1)" font-family='"Liberation Serif", serif' font-size="6.6" fill="#222" font-weight="bold" >143</text>
<text transform="translate(66.02,130.70) rotate(-90) scale(0.92,1)" font-family='"Liberation Serif", serif' font-size="7.6" fill="#555" font-weight="normal" >235</text>
<text transform="translate(97.92,137.80) rotate(-90) scale(0.92,1)" font-family='"Liberation Serif", serif' font-size="7.6" fill="#555" font-weight="normal" >357</text>
<text transform="translate(119.52,107.50) rotate(-90) scale(0.92,1)" font-family='"Liberation Serif", serif' font-size="7.6" fill="#111" font-weight="bold" >449</text>
<text transform="translate(161.54,97.40) rotate(-90) scale(0.92,1)" font-family='"Liberation Serif", serif' font-size="8.2" fill="#222" font-weight="normal" >610</text>
<text x="178.9" y="58.6" font-family='"Liberation Sans", sans-serif' font-size="8.0" fill="#1a1a1a" stroke="#1a1a1a" stroke-width="0.15"><tspan dy="0">TiO</tspan><tspan font-size="5.8" dy="2.4">2</tspan><tspan dy="-2.4"> anatase</tspan></text>
<text x="181.4" y="131.1" font-family='"Liberation Sans", sans-serif' font-size="8.3" fill="#1a1a1a" stroke="#1a1a1a" stroke-width="0.15"><tspan dy="0">TiO</tspan><tspan font-size="5.8" dy="2.4">2</tspan><tspan dy="-2.4"> rutile</tspan></text>
<text x="192.6" y="186.2" font-family='"Liberation Sans", sans-serif' font-size="8.3" fill="#1a1a1a" stroke="#1a1a1a" stroke-width="0.15"><tspan dy="0">Li</tspan><tspan font-size="5.8" dy="2.4">4</tspan><tspan dy="-2.4">Ti</tspan><tspan font-size="5.8" dy="2.4">5</tspan><tspan dy="-2.4">O</tspan><tspan font-size="5.8" dy="2.4">12</tspan></text>
<text x="192.3" y="272.9" font-family='"Liberation Sans", sans-serif' font-size="8.3" fill="#1a1a1a" stroke="#1a1a1a" stroke-width="0.15"><tspan dy="0">Li</tspan><tspan font-size="5.8" dy="2.4">2</tspan><tspan dy="-2.4">TiO</tspan><tspan font-size="5.8" dy="2.4">3</tspan></text>
<text transform="translate(211.2,29.8) scale(0.9,1)" text-anchor="middle" font-family='"Liberation Sans", sans-serif' font-size="15" fill="#111" stroke="#111" stroke-width="0.2">(a)</text>
<text x="25.70" y="321.3" text-anchor="middle" font-family='"Liberation Sans", sans-serif' font-size="10" fill="#222">100</text>
<text x="77.65" y="321.3" text-anchor="middle" font-family='"Liberation Sans", sans-serif' font-size="10" fill="#222">300</text>
<text x="129.60" y="321.3" text-anchor="middle" font-family='"Liberation Sans", sans-serif' font-size="10" fill="#222">500</text>
<text x="181.55" y="321.3" text-anchor="middle" font-family='"Liberation Sans", sans-serif' font-size="10" fill="#222">700</text>
<text x="233.50" y="321.3" text-anchor="middle" font-family='"Liberation Sans", sans-serif' font-size="10" fill="#222">900</text>
<text x="137" y="340.5" text-anchor="middle" font-family='"Liberation Sans", sans-serif' font-size="12.2" fill="#111">Raman shift (cm<tspan font-size="8" dy="-4">-1</tspan><tspan dy="4">)</tspan></text>
<text transform="translate(13.9,146.3) rotate(-90)" text-anchor="middle" font-family='"Liberation Sans", sans-serif' font-size="12.3" fill="#111">Intensity (a.u.)</text>
<path d="M296.80,317.1 v-4 M296.80,111 v4 M310.10,317.1 v-2.6 M310.10,111 v2.6 M323.40,317.1 v-4 M323.40,111 v4 M336.70,317.1 v-2.6 M336.70,111 v2.6 M350.00,317.1 v-4 M350.00,111 v4 M363.30,317.1 v-2.6 M363.30,111 v2.6 M376.60,317.1 v-4 M376.60,111 v4 M389.90,317.1 v-2.6 M389.90,111 v2.6 M403.20,317.1 v-4 M403.20,111 v4 M416.50,317.1 v-2.6 M416.50,111 v2.6 M429.80,317.1 v-4 M429.80,111 v4 M443.10,317.1 v-2.6 M443.10,111 v2.6 M456.40,317.1 v-4 M456.40,111 v4 M469.70,317.1 v-2.6 M469.70,111 v2.6 M483.00,317.1 v-4 M483.00,111 v4 M496.30,317.1 v-2.6 M496.30,111 v2.6 M509.60,317.1 v-4 M509.60,111 v4 M522.90,317.1 v-2.6 M522.90,111 v2.6 M536.20,317.1 v-4 M536.20,111 v4 M296.8,296.49 h2.6 M536.2,296.49 h-2.6 M296.8,275.88 h4 M536.2,275.88 h-4 M296.8,255.27 h2.6 M536.2,255.27 h-2.6 M296.8,234.66 h4 M536.2,234.66 h-4 M296.8,214.05 h2.6 M536.2,214.05 h-2.6 M296.8,193.44 h4 M536.2,193.44 h-4 M296.8,172.83 h2.6 M536.2,172.83 h-2.6 M296.8,152.22 h4 M536.2,152.22 h-4 M296.8,131.61 h2.6 M536.2,131.61 h-2.6" stroke="#4a4a4a" stroke-width="1" fill="none"/>
<path d="M296.80,292.80 L297.04,292.68 L297.36,292.54 L297.73,292.36 L298.15,292.16 L298.60,291.94 L299.07,291.71 L299.54,291.46 L300.00,291.20 L300.33,291.00 L300.68,290.79 L301.04,290.56 L301.40,290.32 L301.77,290.08 L302.14,289.83 L302.52,289.58 L302.89,289.33 L303.27,289.08 L303.64,288.84 L304.00,288.60 L304.37,288.35 L304.74,288.08 L305.12,287.79 L305.50,287.50 L305.88,287.21 L306.25,286.94 L306.62,286.69 L306.97,286.47 L307.30,286.29 L307.61,286.17 L307.90,286.10 L308.34,286.16 L308.70,286.41 L309.01,286.78 L309.30,287.20 L309.62,287.60 L310.00,287.90 L310.37,288.10 L310.76,288.30 L311.17,288.49 L311.60,288.65 L312.04,288.78 L312.51,288.87 L313.00,288.90 L313.36,288.89 L313.72,288.86 L314.10,288.80 L314.48,288.73 L314.88,288.64 L315.28,288.53 L315.69,288.40 L316.12,288.25 L316.55,288.08 L317.00,287.90 L317.33,287.75 L317.66,287.59 L318.01,287.41 L318.36,287.21 L318.71,287.00 L319.07,286.79 L319.44,286.57 L319.80,286.35 L320.17,286.12 L320.54,285.90 L320.91,285.69 L321.28,285.48 L321.64,285.28 L322.00,285.10 L322.38,284.92 L322.77,284.74 L323.15,284.57 L323.54,284.40 L323.92,284.24 L324.31,284.08 L324.69,283.93 L325.08,283.78 L325.46,283.62 L325.85,283.47 L326.23,283.32 L326.62,283.16 L327.00,283.00 L327.39,282.84 L327.78,282.67 L328.17,282.50 L328.57,282.33 L328.97,282.16 L329.37,281.99 L329.76,281.82 L330.15,281.66 L330.54,281.49 L330.91,281.34 L331.29,281.18 L331.65,281.04 L332.00,280.90 L332.44,280.74 L332.86,280.62 L333.27,280.52 L333.67,280.42 L334.06,280.33 L334.44,280.23 L334.82,280.10 L335.21,279.95 L335.60,279.75 L336.00,279.50 L336.29,279.27 L336.59,278.99 L336.89,278.66 L337.20,278.30 L337.51,277.92 L337.81,277.53 L338.12,277.14 L338.42,276.76 L338.72,276.40 L339.01,276.07 L339.30,275.79 L339.58,275.56 L339.84,275.39 L340.10,275.30 L340.44,275.30 L340.75,275.44 L341.04,275.68 L341.32,276.00 L341.59,276.37 L341.85,276.77 L342.12,277.16 L342.40,277.54 L342.69,277.86 L343.00,278.10 L343.35,278.33 L343.70,278.57 L344.04,278.80 L344.40,279.01 L344.77,279.19 L345.16,279.31 L345.57,279.36 L346.02,279.33 L346.50,279.20 L346.78,279.09 L347.07,278.95 L347.38,278.79 L347.70,278.62 L348.03,278.42 L348.37,278.19 L348.71,277.96 L349.06,277.70 L349.41,277.42 L349.77,277.13 L350.12,276.82 L350.47,276.50 L350.81,276.17 L351.15,275.82 L351.48,275.46 L351.80,275.08 L352.10,274.70 L352.31,274.42 L352.52,274.12 L352.72,273.82 L352.93,273.50 L353.13,273.18 L353.33,272.84 L353.52,272.50 L353.72,272.14 L353.91,271.78 L354.10,271.42 L354.29,271.05 L354.48,270.67 L354.67,270.29 L354.85,269.90 L355.03,269.51 L355.21,269.12 L355.39,268.73 L355.57,268.34 L355.75,267.94 L355.92,267.55 L356.09,267.16 L356.26,266.77 L356.43,266.38 L356.60,266.00 L356.76,265.63 L356.92,265.25 L357.07,264.86 L357.22,264.46 L357.38,264.06 L357.52,263.65 L357.67,263.23 L357.82,262.82 L357.96,262.40 L358.11,261.98 L358.25,261.56 L358.39,261.14 L358.53,260.73 L358.66,260.32 L358.80,259.92 L358.93,259.52 L359.07,259.13 L359.20,258.74 L359.33,258.37 L359.46,258.01 L359.59,257.66 L359.72,257.32 L359.85,257.00 L359.97,256.69 L360.10,256.40 L360.34,255.87 L360.59,255.38 L360.83,254.93 L361.07,254.50 L361.31,254.10 L361.54,253.74 L361.76,253.40 L361.98,253.09 L362.19,252.80 L362.38,252.54 L362.57,252.30 L362.74,252.09 L362.90,251.90 L363.45,251.44 L364.00,251.70 L364.30,251.80 L364.64,251.95 L365.02,252.13 L365.43,252.34 L365.87,252.56 L366.33,252.78 L366.80,253.00 L367.15,253.17 L367.54,253.39 L367.94,253.62 L368.36,253.87 L368.78,254.11 L369.20,254.32 L369.61,254.51 L370.00,254.64 L370.37,254.71 L370.70,254.70 L371.02,254.58 L371.30,254.37 L371.55,254.09 L371.78,253.75 L372.00,253.37 L372.22,252.98 L372.45,252.59 L372.71,252.22 L373.00,251.90 L373.29,251.62 L373.59,251.30 L373.91,250.97 L374.24,250.64 L374.58,250.32 L374.92,250.03 L375.27,249.77 L375.62,249.58 L375.96,249.45 L376.30,249.40 L376.64,249.46 L377.00,249.61 L377.37,249.84 L377.73,250.13 L378.10,250.46 L378.46,250.80 L378.80,251.13 L379.13,251.44 L379.43,251.70 L379.70,251.90 L380.24,252.28 L380.66,252.57 L381.01,252.68 L381.40,252.50 L381.59,252.32 L381.78,252.09 L381.97,251.81 L382.16,251.48 L382.34,251.10 L382.53,250.67 L382.72,250.19 L382.91,249.67 L383.10,249.10 L383.19,248.79 L383.29,248.46 L383.38,248.10 L383.48,247.73 L383.58,247.34 L383.67,246.93 L383.77,246.52 L383.86,246.09 L383.96,245.66 L384.05,245.22 L384.15,244.78 L384.24,244.33 L384.34,243.89 L384.43,243.46 L384.52,243.03 L384.62,242.61 L384.71,242.20 L384.80,241.80 L384.90,241.39 L384.99,240.98 L385.09,240.57 L385.18,240.16 L385.27,239.75 L385.37,239.35 L385.46,238.94 L385.55,238.54 L385.65,238.15 L385.74,237.75 L385.83,237.36 L385.93,236.97 L386.02,236.59 L386.11,236.21 L386.21,235.83 L386.30,235.46 L386.40,235.10 L386.52,234.66 L386.63,234.22 L386.75,233.79 L386.86,233.36 L386.98,232.93 L387.09,232.51 L387.21,232.09 L387.32,231.69 L387.44,231.29 L387.57,230.91 L387.69,230.53 L387.82,230.17 L387.96,229.83 L388.10,229.50 L388.31,229.07 L388.54,228.66 L388.78,228.28 L389.03,227.92 L389.29,227.58 L389.54,227.26 L389.78,226.96 L390.01,226.66 L390.22,226.38 L390.40,226.10 L390.67,225.55 L390.85,225.02 L391.00,224.56 L391.20,224.21 L391.50,224.00 L391.81,224.05 L392.17,224.30 L392.57,224.64 L392.99,224.97 L393.41,225.20 L393.82,225.21 L394.20,224.90 L394.32,224.70 L394.45,224.47 L394.57,224.19 L394.69,223.88 L394.81,223.54 L394.92,223.17 L395.04,222.78 L395.15,222.37 L395.27,221.94 L395.38,221.49 L395.49,221.04 L395.61,220.58 L395.72,220.11 L395.83,219.64 L395.94,219.17 L396.05,218.71 L396.16,218.26 L396.28,217.83 L396.39,217.40 L396.50,217.00 L396.61,216.60 L396.73,216.20 L396.84,215.78 L396.96,215.36 L397.08,214.94 L397.20,214.51 L397.31,214.08 L397.43,213.66 L397.55,213.23 L397.66,212.81 L397.78,212.40 L397.89,211.99 L398.00,211.59 L398.11,211.21 L398.22,210.83 L398.32,210.47 L398.42,210.13 L398.52,209.80 L398.61,209.49 L398.70,209.20 L398.90,208.58 L399.07,208.10 L399.22,207.70 L399.36,207.37 L399.49,207.06 L399.64,206.73 L399.81,206.36 L400.00,205.90 L400.13,205.57 L400.27,205.23 L400.41,204.87 L400.56,204.50 L400.71,204.12 L400.86,203.73 L401.02,203.34 L401.19,202.94 L401.36,202.55 L401.54,202.15 L401.72,201.76 L401.91,201.37 L402.10,201.00 L402.30,200.61 L402.50,200.17 L402.71,199.71 L402.93,199.24 L403.15,198.76 L403.37,198.29 L403.60,197.84 L403.84,197.43 L404.08,197.06 L404.33,196.75 L404.58,196.51 L404.84,196.36 L405.10,196.30 L405.35,196.34 L405.62,196.47 L405.89,196.67 L406.17,196.94 L406.46,197.26 L406.76,197.62 L407.05,198.02 L407.34,198.44 L407.64,198.87 L407.93,199.30 L408.21,199.72 L408.48,200.11 L408.75,200.48 L409.00,200.80 L409.28,201.14 L409.56,201.49 L409.83,201.83 L410.09,202.16 L410.34,202.49 L410.59,202.82 L410.83,203.14 L411.07,203.45 L411.31,203.75 L411.54,204.04 L411.77,204.33 L412.00,204.60 L412.30,204.93 L412.59,205.24 L412.87,205.51 L413.15,205.77 L413.42,206.03 L413.69,206.29 L413.95,206.56 L414.22,206.87 L414.50,207.20 L414.73,207.50 L414.95,207.82 L415.17,208.16 L415.39,208.50 L415.61,208.86 L415.83,209.22 L416.05,209.58 L416.28,209.95 L416.52,210.31 L416.75,210.66 L417.00,211.00 L417.26,211.34 L417.52,211.70 L417.80,212.07 L418.08,212.43 L418.37,212.80 L418.66,213.15 L418.94,213.49 L419.22,213.81 L419.49,214.11 L419.75,214.37 L420.00,214.60 L420.42,214.94 L420.80,215.20 L421.17,215.39 L421.53,215.51 L421.90,215.58 L422.30,215.60 L422.67,215.58 L423.06,215.54 L423.47,215.45 L423.87,215.32 L424.27,215.13 L424.65,214.90 L425.00,214.60 L425.23,214.35 L425.45,214.07 L425.67,213.76 L425.87,213.41 L426.07,213.05 L426.27,212.67 L426.46,212.26 L426.64,211.85 L426.82,211.43 L427.00,211.00 L427.13,210.67 L427.26,210.32 L427.38,209.97 L427.50,209.61 L427.61,209.24 L427.73,208.87 L427.84,208.48 L427.95,208.09 L428.05,207.69 L428.16,207.28 L428.27,206.86 L428.39,206.43 L428.50,206.00 L428.59,205.64 L428.68,205.28 L428.77,204.92 L428.85,204.55 L428.94,204.17 L429.02,203.79 L429.10,203.40 L429.19,203.01 L429.27,202.61 L429.36,202.21 L429.46,201.79 L429.55,201.37 L429.66,200.94 L429.76,200.51 L429.88,200.06 L430.00,199.60 L430.10,199.24 L430.20,198.87 L430.31,198.49 L430.43,198.09 L430.55,197.69 L430.67,197.28 L430.80,196.87 L430.92,196.45 L431.05,196.03 L431.18,195.61 L431.32,195.18 L431.45,194.76 L431.58,194.34 L431.70,193.92 L431.83,193.51 L431.95,193.10 L432.07,192.70 L432.19,192.31 L432.30,191.93 L432.40,191.56 L432.50,191.20 L432.62,190.74 L432.74,190.28 L432.85,189.82 L432.95,189.36 L433.05,188.91 L433.15,188.46 L433.24,188.03 L433.33,187.61 L433.42,187.20 L433.50,186.80 L433.59,186.43 L433.67,186.07 L433.75,185.74 L433.83,185.43 L433.92,185.15 L434.00,184.90 L434.32,184.07 L434.61,183.52 L434.89,183.34 L435.20,183.60 L435.30,183.78 L435.40,184.01 L435.49,184.27 L435.59,184.58 L435.68,184.93 L435.78,185.32 L435.88,185.75 L435.99,186.21 L436.10,186.71 L436.21,187.23 L436.33,187.79 L436.46,188.38 L436.60,189.00 L436.67,189.30 L436.73,189.62 L436.80,189.94 L436.87,190.29 L436.94,190.64 L437.00,191.00 L437.07,191.38 L437.14,191.76 L437.22,192.16 L437.29,192.56 L437.36,192.96 L437.44,193.37 L437.52,193.79 L437.59,194.21 L437.67,194.64 L437.76,195.06 L437.84,195.49 L437.92,195.92 L438.01,196.34 L438.10,196.77 L438.19,197.19 L438.29,197.61 L438.38,198.02 L438.48,198.43 L438.58,198.84 L438.68,199.23 L438.79,199.62 L438.90,200.00 L439.02,200.40 L439.15,200.80 L439.28,201.20 L439.42,201.59 L439.56,201.99 L439.70,202.38 L439.85,202.76 L440.00,203.15 L440.15,203.54 L440.31,203.92 L440.46,204.30 L440.62,204.68 L440.78,205.06 L440.94,205.44 L441.10,205.82 L441.26,206.20 L441.42,206.58 L441.58,206.96 L441.74,207.33 L441.90,207.71 L442.06,208.09 L442.21,208.47 L442.36,208.85 L442.51,209.23 L442.66,209.62 L442.80,210.00 L442.94,210.38 L443.08,210.77 L443.22,211.15 L443.36,211.54 L443.49,211.92 L443.63,212.31 L443.77,212.69 L443.90,213.08 L444.04,213.46 L444.17,213.85 L444.30,214.23 L444.44,214.62 L444.57,215.00 L444.70,215.38 L444.83,215.77 L444.96,216.15 L445.09,216.54 L445.21,216.92 L445.34,217.31 L445.47,217.69 L445.59,218.08 L445.71,218.46 L445.84,218.85 L445.96,219.23 L446.08,219.62 L446.20,220.00 L446.32,220.40 L446.44,220.80 L446.56,221.20 L446.68,221.60 L446.80,222.00 L446.91,222.40 L447.02,222.80 L447.14,223.20 L447.25,223.60 L447.36,224.00 L447.47,224.40 L447.58,224.80 L447.69,225.20 L447.79,225.60 L447.90,226.00 L448.01,226.40 L448.12,226.80 L448.23,227.20 L448.33,227.60 L448.44,228.00 L448.55,228.40 L448.66,228.80 L448.77,229.20 L448.89,229.60 L449.00,230.00 L449.11,230.38 L449.22,230.77 L449.33,231.15 L449.44,231.54 L449.56,231.92 L449.67,232.31 L449.78,232.69 L449.89,233.08 L450.01,233.46 L450.12,233.85 L450.24,234.23 L450.35,234.62 L450.46,235.00 L450.58,235.38 L450.69,235.77 L450.80,236.15 L450.91,236.54 L451.03,236.92 L451.14,237.31 L451.25,237.69 L451.36,238.08 L451.47,238.46 L451.58,238.85 L451.69,239.23 L451.79,239.62 L451.90,240.00 L452.01,240.40 L452.12,240.80 L452.23,241.20 L452.34,241.60 L452.45,242.00 L452.56,242.40 L452.67,242.80 L452.78,243.20 L452.88,243.60 L452.99,244.00 L453.10,244.40 L453.20,244.80 L453.31,245.20 L453.41,245.60 L453.52,246.00 L453.62,246.40 L453.72,246.80 L453.82,247.20 L453.92,247.60 L454.02,248.00 L454.12,248.40 L454.22,248.80 L454.31,249.20 L454.41,249.60 L454.50,250.00 L454.59,250.40 L454.68,250.80 L454.77,251.20 L454.85,251.60 L454.94,252.00 L455.02,252.40 L455.10,252.80 L455.18,253.20 L455.26,253.60 L455.34,254.00 L455.42,254.40 L455.50,254.80 L455.58,255.20 L455.65,255.60 L455.73,256.00 L455.80,256.40 L455.88,256.80 L455.96,257.20 L456.03,257.60 L456.11,258.00 L456.19,258.40 L456.26,258.80 L456.34,259.20 L456.42,259.60 L456.50,260.00 L456.58,260.40 L456.66,260.80 L456.73,261.20 L456.80,261.60 L456.88,262.00 L456.95,262.40 L457.02,262.80 L457.09,263.20 L457.16,263.60 L457.23,264.00 L457.30,264.40 L457.38,264.80 L457.45,265.20 L457.52,265.60 L457.60,266.00 L457.68,266.40 L457.76,266.80 L457.84,267.20 L457.92,267.60 L458.01,268.00 L458.10,268.40 L458.19,268.80 L458.29,269.20 L458.39,269.60 L458.50,270.00 L458.61,270.39 L458.72,270.78 L458.83,271.18 L458.95,271.59 L459.07,272.00 L459.20,272.41 L459.32,272.82 L459.45,273.24 L459.59,273.66 L459.72,274.07 L459.86,274.49 L459.99,274.90 L460.13,275.31 L460.27,275.72 L460.41,276.12 L460.55,276.52 L460.69,276.91 L460.83,277.29 L460.97,277.67 L461.11,278.03 L461.24,278.39 L461.38,278.74 L461.51,279.07 L461.64,279.39 L461.77,279.70 L461.90,280.00 L462.13,280.52 L462.34,280.99 L462.54,281.44 L462.74,281.85 L462.93,282.24 L463.13,282.60 L463.32,282.94 L463.53,283.26 L463.74,283.57 L463.96,283.86 L464.19,284.15 L464.44,284.43 L464.71,284.72 L465.00,285.00 L465.29,285.26 L465.60,285.51 L465.93,285.74 L466.28,285.97 L466.63,286.19 L466.99,286.39 L467.37,286.59 L467.75,286.78 L468.13,286.97 L468.51,287.15 L468.90,287.32 L469.28,287.50 L469.66,287.67 L470.04,287.83 L470.40,288.00 L470.78,288.17 L471.17,288.34 L471.54,288.49 L471.92,288.64 L472.30,288.79 L472.68,288.93 L473.06,289.06 L473.44,289.20 L473.82,289.33 L474.21,289.46 L474.60,289.59 L474.99,289.72 L475.39,289.86 L475.80,290.00 L476.16,290.12 L476.52,290.25 L476.87,290.38 L477.23,290.50 L477.59,290.62 L477.95,290.75 L478.31,290.88 L478.68,291.00 L479.06,291.12 L479.44,291.25 L479.82,291.38 L480.22,291.50 L480.62,291.62 L481.04,291.75 L481.46,291.88 L481.90,292.00 L482.26,292.10 L482.62,292.19 L482.99,292.29 L483.36,292.38 L483.74,292.47 L484.12,292.56 L484.51,292.64 L484.90,292.73 L485.30,292.82 L485.71,292.91 L486.11,293.00 L486.53,293.10 L486.94,293.20 L487.37,293.30 L487.79,293.40 L488.23,293.51 L488.66,293.62 L489.10,293.74 L489.55,293.87 L490.00,294.00 L490.35,294.11 L490.71,294.22 L491.07,294.33 L491.43,294.45 L491.80,294.57 L492.18,294.70 L492.56,294.83 L492.94,294.96 L493.32,295.09 L493.71,295.23 L494.10,295.37 L494.49,295.50 L494.88,295.64 L495.28,295.78 L495.67,295.92 L496.07,296.06 L496.46,296.21 L496.86,296.34 L497.26,296.48 L497.65,296.62 L498.05,296.76 L498.44,296.89 L498.83,297.02 L499.23,297.15 L499.61,297.28 L500.00,297.40 L500.38,297.52 L500.77,297.64 L501.15,297.76 L501.54,297.88 L501.92,298.00 L502.31,298.11 L502.69,298.23 L503.08,298.35 L503.46,298.46 L503.85,298.57 L504.23,298.69 L504.62,298.80 L505.00,298.91 L505.38,299.02 L505.77,299.13 L506.15,299.24 L506.54,299.35 L506.92,299.46 L507.31,299.57 L507.69,299.68 L508.08,299.78 L508.46,299.89 L508.85,299.99 L509.23,300.09 L509.62,300.20 L510.00,300.30 L510.40,300.41 L510.80,300.51 L511.20,300.61 L511.60,300.71 L512.00,300.81 L512.40,300.91 L512.80,301.01 L513.20,301.11 L513.60,301.21 L514.00,301.30 L514.40,301.40 L514.80,301.49 L515.20,301.58 L515.60,301.68 L516.00,301.77 L516.40,301.86 L516.80,301.96 L517.20,302.05 L517.60,302.14 L518.00,302.23 L518.40,302.33 L518.80,302.42 L519.20,302.51 L519.60,302.61 L520.00,302.70 L520.40,302.79 L520.81,302.89 L521.23,302.98 L521.65,303.08 L522.07,303.17 L522.49,303.27 L522.92,303.36 L523.35,303.46 L523.77,303.55 L524.20,303.65 L524.63,303.74 L525.05,303.83 L525.47,303.93 L525.89,304.02 L526.30,304.11 L526.71,304.21 L527.11,304.30 L527.50,304.39 L527.89,304.48 L528.27,304.57 L528.64,304.66 L529.00,304.74 L529.34,304.83 L529.68,304.92 L530.00,305.00 L530.52,305.14 L531.03,305.29 L531.52,305.44 L532.00,305.58 L532.46,305.73 L532.90,305.88 L533.32,306.02 L533.72,306.16 L534.10,306.30 L534.45,306.42 L534.78,306.54 L535.08,306.65 L535.35,306.74 L535.59,306.83 L535.80,306.90" stroke="#f2d8da" stroke-width="1.6" fill="none" stroke-linejoin="round" stroke-linecap="round"/>
<g fill="none" stroke="#b41616" stroke-width="0.6" stroke-opacity="0.48"><circle cx="296.63" cy="293.05" r="1.35"/><circle cx="297.00" cy="292.57" r="1.35"/><circle cx="297.66" cy="292.52" r="1.35"/><circle cx="297.88" cy="291.77" r="1.35"/><circle cx="298.58" cy="292.35" r="1.35"/><circle cx="299.11" cy="292.05" r="1.35"/><circle cx="299.60" cy="291.92" r="1.35"/><circle cx="299.78" cy="291.55" r="1.35"/><circle cx="300.36" cy="290.61" r="1.35"/><circle cx="301.01" cy="290.50" r="1.35"/><circle cx="301.76" cy="290.72" r="1.35"/><circle cx="302.07" cy="289.72" r="1.35"/><circle cx="302.25" cy="289.59" r="1.35"/><circle cx="302.78" cy="289.05" r="1.35"/><circle cx="303.19" cy="288.78" r="1.35"/><circle cx="303.71" cy="288.32" r="1.35"/><circle cx="304.19" cy="288.85" r="1.35"/><circle cx="305.00" cy="288.16" r="1.35"/><circle cx="305.53" cy="288.13" r="1.35"/><circle cx="305.46" cy="286.89" r="1.35"/><circle cx="306.10" cy="287.01" r="1.35"/><circle cx="306.98" cy="286.17" r="1.35"/><circle cx="307.25" cy="286.67" r="1.35"/><circle cx="307.45" cy="286.44" r="1.35"/><circle cx="308.28" cy="285.69" r="1.35"/><circle cx="308.63" cy="286.25" r="1.35"/><circle cx="309.15" cy="286.41" r="1.35"/><circle cx="309.54" cy="286.91" r="1.35"/><circle cx="309.63" cy="287.78" r="1.35"/><circle cx="310.28" cy="288.03" r="1.35"/><circle cx="310.68" cy="288.84" r="1.35"/><circle cx="311.26" cy="288.54" r="1.35"/><circle cx="311.71" cy="289.10" r="1.35"/><circle cx="312.05" cy="289.26" r="1.35"/><circle cx="312.54" cy="289.27" r="1.35"/><circle cx="313.17" cy="289.00" r="1.35"/><circle cx="313.54" cy="289.18" r="1.35"/><circle cx="313.99" cy="289.08" r="1.35"/><circle cx="314.73" cy="289.09" r="1.35"/><circle cx="315.41" cy="288.87" r="1.35"/><circle cx="315.38" cy="288.75" r="1.35"/><circle cx="315.80" cy="288.59" r="1.35"/><circle cx="316.77" cy="287.74" r="1.35"/><circle cx="316.72" cy="288.21" r="1.35"/><circle cx="317.39" cy="287.86" r="1.35"/><circle cx="318.14" cy="287.88" r="1.35"/><circle cx="318.43" cy="287.52" r="1.35"/><circle cx="319.15" cy="287.16" r="1.35"/><circle cx="319.31" cy="287.01" r="1.35"/><circle cx="319.80" cy="286.72" r="1.35"/><circle cx="320.23" cy="286.03" r="1.35"/><circle cx="320.47" cy="285.39" r="1.35"/><circle cx="321.46" cy="285.48" r="1.35"/><circle cx="321.83" cy="285.23" r="1.35"/><circle cx="322.32" cy="285.03" r="1.35"/><circle cx="322.43" cy="284.61" r="1.35"/><circle cx="323.19" cy="284.24" r="1.35"/><circle cx="323.84" cy="283.95" r="1.35"/><circle cx="324.08" cy="284.57" r="1.35"/><circle cx="324.64" cy="283.65" r="1.35"/><circle cx="324.73" cy="284.03" r="1.35"/><circle cx="325.37" cy="283.24" r="1.35"/><circle cx="325.66" cy="283.62" r="1.35"/><circle cx="326.07" cy="283.06" r="1.35"/><circle cx="327.08" cy="282.83" r="1.35"/><circle cx="327.49" cy="282.41" r="1.35"/><circle cx="327.57" cy="282.23" r="1.35"/><circle cx="328.36" cy="282.55" r="1.35"/><circle cx="328.86" cy="282.59" r="1.35"/><circle cx="329.32" cy="281.68" r="1.35"/><circle cx="329.63" cy="281.40" r="1.35"/><circle cx="330.31" cy="281.54" r="1.35"/><circle cx="330.57" cy="281.86" r="1.35"/><circle cx="331.34" cy="281.39" r="1.35"/><circle cx="331.46" cy="281.46" r="1.35"/><circle cx="332.21" cy="280.61" r="1.35"/><circle cx="332.44" cy="281.18" r="1.35"/><circle cx="333.21" cy="281.02" r="1.35"/><circle cx="333.40" cy="280.15" r="1.35"/><circle cx="334.11" cy="280.08" r="1.35"/><circle cx="334.39" cy="280.15" r="1.35"/><circle cx="335.00" cy="279.98" r="1.35"/><circle cx="335.17" cy="280.28" r="1.35"/><circle cx="335.85" cy="280.18" r="1.35"/><circle cx="335.95" cy="279.00" r="1.35"/><circle cx="336.74" cy="278.94" r="1.35"/><circle cx="337.35" cy="278.37" r="1.35"/><circle cx="337.32" cy="277.79" r="1.35"/><circle cx="337.91" cy="277.51" r="1.35"/><circle cx="338.72" cy="276.98" r="1.35"/><circle cx="338.76" cy="276.16" r="1.35"/><circle cx="339.29" cy="276.12" r="1.35"/><circle cx="339.74" cy="275.50" r="1.35"/><circle cx="340.57" cy="275.01" r="1.35"/><circle cx="340.95" cy="275.17" r="1.35"/><circle cx="341.08" cy="275.83" r="1.35"/><circle cx="341.57" cy="276.66" r="1.35"/><circle cx="342.40" cy="277.83" r="1.35"/><circle cx="342.62" cy="277.90" r="1.35"/><circle cx="343.33" cy="278.05" r="1.35"/><circle cx="343.57" cy="278.43" r="1.35"/><circle cx="344.36" cy="278.73" r="1.35"/><circle cx="344.81" cy="278.78" r="1.35"/><circle cx="345.01" cy="279.09" r="1.35"/><circle cx="345.42" cy="279.02" r="1.35"/><circle cx="346.02" cy="279.64" r="1.35"/><circle cx="346.63" cy="279.68" r="1.35"/><circle cx="346.89" cy="278.79" r="1.35"/><circle cx="347.33" cy="278.73" r="1.35"/><circle cx="347.72" cy="278.77" r="1.35"/><circle cx="348.38" cy="277.69" r="1.35"/><circle cx="348.89" cy="277.76" r="1.35"/><circle cx="349.16" cy="277.28" r="1.35"/><circle cx="349.91" cy="277.60" r="1.35"/><circle cx="350.33" cy="276.45" r="1.35"/><circle cx="350.44" cy="276.09" r="1.35"/><circle cx="351.04" cy="275.69" r="1.35"/><circle cx="351.63" cy="275.02" r="1.35"/><circle cx="351.92" cy="275.10" r="1.35"/><circle cx="352.86" cy="274.25" r="1.35"/><circle cx="353.29" cy="273.39" r="1.35"/><circle cx="353.65" cy="272.48" r="1.35"/><circle cx="354.05" cy="272.05" r="1.35"/><circle cx="354.55" cy="271.08" r="1.35"/><circle cx="354.95" cy="269.69" r="1.35"/><circle cx="355.53" cy="269.23" r="1.35"/><circle cx="355.64" cy="267.48" r="1.35"/><circle cx="355.97" cy="266.50" r="1.35"/><circle cx="356.54" cy="265.38" r="1.35"/><circle cx="356.99" cy="264.36" r="1.35"/><circle cx="357.45" cy="263.75" r="1.35"/><circle cx="357.85" cy="261.47" r="1.35"/><circle cx="358.83" cy="260.47" r="1.35"/><circle cx="359.19" cy="259.03" r="1.35"/><circle cx="359.20" cy="257.47" r="1.35"/><circle cx="360.20" cy="256.31" r="1.35"/><circle cx="360.37" cy="255.52" r="1.35"/><circle cx="360.94" cy="254.76" r="1.35"/><circle cx="361.51" cy="253.79" r="1.35"/><circle cx="361.80" cy="253.86" r="1.35"/><circle cx="362.26" cy="253.18" r="1.35"/><circle cx="362.43" cy="252.52" r="1.35"/><circle cx="363.11" cy="252.08" r="1.35"/><circle cx="363.79" cy="251.31" r="1.35"/><circle cx="364.29" cy="251.41" r="1.35"/><circle cx="364.60" cy="252.16" r="1.35"/><circle cx="364.86" cy="251.71" r="1.35"/><circle cx="365.74" cy="252.08" r="1.35"/><circle cx="366.15" cy="252.59" r="1.35"/><circle cx="366.29" cy="253.21" r="1.35"/><circle cx="366.89" cy="252.84" r="1.35"/><circle cx="367.68" cy="253.82" r="1.35"/><circle cx="367.81" cy="254.08" r="1.35"/><circle cx="368.17" cy="254.19" r="1.35"/><circle cx="368.96" cy="253.92" r="1.35"/><circle cx="369.34" cy="254.24" r="1.35"/><circle cx="369.97" cy="254.52" r="1.35"/><circle cx="370.31" cy="254.88" r="1.35"/><circle cx="370.73" cy="254.25" r="1.35"/><circle cx="371.30" cy="254.74" r="1.35"/><circle cx="371.62" cy="253.52" r="1.35"/><circle cx="372.50" cy="252.59" r="1.35"/><circle cx="372.99" cy="252.03" r="1.35"/><circle cx="373.00" cy="251.95" r="1.35"/><circle cx="373.89" cy="251.20" r="1.35"/><circle cx="373.99" cy="250.38" r="1.35"/><circle cx="374.29" cy="250.52" r="1.35"/><circle cx="375.19" cy="249.75" r="1.35"/><circle cx="375.49" cy="249.90" r="1.35"/><circle cx="376.09" cy="249.62" r="1.35"/><circle cx="376.67" cy="249.15" r="1.35"/><circle cx="377.16" cy="249.68" r="1.35"/><circle cx="377.25" cy="250.02" r="1.35"/><circle cx="377.72" cy="250.13" r="1.35"/><circle cx="378.51" cy="250.97" r="1.35"/><circle cx="378.83" cy="251.41" r="1.35"/><circle cx="379.45" cy="251.42" r="1.35"/><circle cx="379.45" cy="252.34" r="1.35"/><circle cx="379.93" cy="252.18" r="1.35"/><circle cx="380.42" cy="252.61" r="1.35"/><circle cx="381.30" cy="252.19" r="1.35"/><circle cx="381.60" cy="252.21" r="1.35"/><circle cx="382.17" cy="252.03" r="1.35"/><circle cx="382.64" cy="250.21" r="1.35"/><circle cx="382.92" cy="249.34" r="1.35"/><circle cx="383.26" cy="248.14" r="1.35"/><circle cx="383.84" cy="245.65" r="1.35"/><circle cx="384.21" cy="243.70" r="1.35"/><circle cx="385.02" cy="241.26" r="1.35"/><circle cx="385.29" cy="239.46" r="1.35"/><circle cx="385.49" cy="237.58" r="1.35"/><circle cx="386.29" cy="235.94" r="1.35"/><circle cx="386.96" cy="234.31" r="1.35"/><circle cx="387.37" cy="232.64" r="1.35"/><circle cx="387.68" cy="231.29" r="1.35"/><circle cx="388.25" cy="229.91" r="1.35"/><circle cx="388.40" cy="228.51" r="1.35"/><circle cx="389.20" cy="227.52" r="1.35"/><circle cx="389.37" cy="227.72" r="1.35"/><circle cx="389.79" cy="226.79" r="1.35"/><circle cx="390.29" cy="226.27" r="1.35"/><circle cx="391.03" cy="224.62" r="1.35"/><circle cx="391.24" cy="224.47" r="1.35"/><circle cx="391.71" cy="224.51" r="1.35"/><circle cx="392.08" cy="224.34" r="1.35"/><circle cx="392.47" cy="225.09" r="1.35"/><circle cx="393.13" cy="225.40" r="1.35"/><circle cx="393.73" cy="225.00" r="1.35"/><circle cx="394.32" cy="224.58" r="1.35"/><circle cx="394.83" cy="224.46" r="1.35"/><circle cx="394.88" cy="222.88" r="1.35"/><circle cx="395.40" cy="221.02" r="1.35"/><circle cx="396.21" cy="219.13" r="1.35"/><circle cx="396.45" cy="216.89" r="1.35"/><circle cx="396.60" cy="215.67" r="1.35"/><circle cx="397.28" cy="214.45" r="1.35"/><circle cx="397.83" cy="212.74" r="1.35"/><circle cx="398.29" cy="211.15" r="1.35"/><circle cx="398.59" cy="208.73" r="1.35"/><circle cx="399.32" cy="208.00" r="1.35"/><circle cx="399.45" cy="206.47" r="1.35"/><circle cx="400.08" cy="206.06" r="1.35"/><circle cx="400.67" cy="204.42" r="1.35"/><circle cx="401.07" cy="203.19" r="1.35"/><circle cx="401.42" cy="201.96" r="1.35"/><circle cx="402.05" cy="200.85" r="1.35"/><circle cx="402.42" cy="199.97" r="1.35"/><circle cx="402.66" cy="199.62" r="1.35"/><circle cx="403.56" cy="198.37" r="1.35"/><circle cx="404.08" cy="197.70" r="1.35"/><circle cx="404.28" cy="196.94" r="1.35"/><circle cx="404.44" cy="196.01" r="1.35"/><circle cx="405.34" cy="196.18" r="1.35"/><circle cx="405.93" cy="196.24" r="1.35"/><circle cx="405.98" cy="196.58" r="1.35"/><circle cx="406.84" cy="197.45" r="1.35"/><circle cx="406.92" cy="197.61" r="1.35"/><circle cx="407.60" cy="198.26" r="1.35"/><circle cx="408.24" cy="199.11" r="1.35"/><circle cx="408.64" cy="200.48" r="1.35"/><circle cx="408.82" cy="200.81" r="1.35"/><circle cx="409.53" cy="201.27" r="1.35"/><circle cx="409.84" cy="202.30" r="1.35"/><circle cx="410.22" cy="202.60" r="1.35"/><circle cx="410.54" cy="203.21" r="1.35"/><circle cx="411.59" cy="203.65" r="1.35"/><circle cx="411.91" cy="204.15" r="1.35"/><circle cx="412.15" cy="204.75" r="1.35"/><circle cx="412.92" cy="205.17" r="1.35"/><circle cx="412.91" cy="205.85" r="1.35"/><circle cx="413.70" cy="206.36" r="1.35"/><circle cx="414.10" cy="206.55" r="1.35"/><circle cx="414.71" cy="207.06" r="1.35"/><circle cx="414.90" cy="207.65" r="1.35"/><circle cx="415.24" cy="208.39" r="1.35"/><circle cx="416.07" cy="209.33" r="1.35"/><circle cx="416.41" cy="209.92" r="1.35"/><circle cx="416.76" cy="211.06" r="1.35"/><circle cx="417.63" cy="211.13" r="1.35"/><circle cx="417.94" cy="212.55" r="1.35"/><circle cx="418.32" cy="213.09" r="1.35"/><circle cx="418.57" cy="213.57" r="1.35"/><circle cx="419.00" cy="213.54" r="1.35"/><circle cx="419.46" cy="213.83" r="1.35"/><circle cx="420.31" cy="214.58" r="1.35"/><circle cx="420.56" cy="215.33" r="1.35"/><circle cx="420.98" cy="215.73" r="1.35"/><circle cx="421.41" cy="216.00" r="1.35"/><circle cx="422.28" cy="215.59" r="1.35"/><circle cx="422.79" cy="215.94" r="1.35"/><circle cx="423.27" cy="215.34" r="1.35"/><circle cx="423.44" cy="215.24" r="1.35"/><circle cx="423.96" cy="215.32" r="1.35"/><circle cx="424.69" cy="214.84" r="1.35"/><circle cx="424.99" cy="214.42" r="1.35"/><circle cx="425.38" cy="213.67" r="1.35"/><circle cx="425.90" cy="213.52" r="1.35"/><circle cx="426.39" cy="212.90" r="1.35"/><circle cx="426.82" cy="211.25" r="1.35"/><circle cx="427.53" cy="210.22" r="1.35"/><circle cx="427.53" cy="208.92" r="1.35"/><circle cx="428.28" cy="207.04" r="1.35"/><circle cx="428.46" cy="205.10" r="1.35"/><circle cx="429.11" cy="203.39" r="1.35"/><circle cx="429.72" cy="201.10" r="1.35"/><circle cx="430.07" cy="199.25" r="1.35"/><circle cx="430.27" cy="197.63" r="1.35"/><circle cx="431.00" cy="196.72" r="1.35"/><circle cx="431.33" cy="195.34" r="1.35"/><circle cx="432.01" cy="193.87" r="1.35"/><circle cx="432.37" cy="191.93" r="1.35"/><circle cx="432.69" cy="190.58" r="1.35"/><circle cx="433.07" cy="188.01" r="1.35"/><circle cx="433.94" cy="186.63" r="1.35"/><circle cx="434.21" cy="184.92" r="1.35"/><circle cx="434.32" cy="183.81" r="1.35"/><circle cx="435.11" cy="183.21" r="1.35"/><circle cx="435.37" cy="184.50" r="1.35"/><circle cx="436.21" cy="186.33" r="1.35"/><circle cx="436.14" cy="188.23" r="1.35"/><circle cx="436.77" cy="190.01" r="1.35"/><circle cx="437.06" cy="192.84" r="1.35"/><circle cx="437.65" cy="195.06" r="1.35"/><circle cx="438.24" cy="197.80" r="1.35"/><circle cx="438.56" cy="199.36" r="1.35"/><circle cx="439.25" cy="201.08" r="1.35"/><circle cx="439.83" cy="201.90" r="1.35"/><circle cx="440.29" cy="202.92" r="1.35"/><circle cx="440.51" cy="204.70" r="1.35"/><circle cx="441.24" cy="205.42" r="1.35"/><circle cx="441.57" cy="206.87" r="1.35"/><circle cx="441.66" cy="208.03" r="1.35"/><circle cx="442.60" cy="208.57" r="1.35"/><circle cx="442.74" cy="210.08" r="1.35"/><circle cx="443.58" cy="211.88" r="1.35"/><circle cx="443.58" cy="212.60" r="1.35"/><circle cx="444.01" cy="213.58" r="1.35"/><circle cx="444.52" cy="215.79" r="1.35"/><circle cx="445.39" cy="216.43" r="1.35"/><circle cx="445.69" cy="218.29" r="1.35"/><circle cx="446.04" cy="219.92" r="1.35"/><circle cx="446.28" cy="220.84" r="1.35"/><circle cx="446.75" cy="223.07" r="1.35"/><circle cx="447.62" cy="224.25" r="1.35"/><circle cx="447.65" cy="226.34" r="1.35"/><circle cx="448.52" cy="228.05" r="1.35"/><circle cx="449.07" cy="229.49" r="1.35"/><circle cx="449.26" cy="231.22" r="1.35"/><circle cx="449.51" cy="232.84" r="1.35"/><circle cx="450.06" cy="233.98" r="1.35"/><circle cx="450.86" cy="235.08" r="1.35"/><circle cx="451.00" cy="237.48" r="1.35"/><circle cx="451.49" cy="239.15" r="1.35"/><circle cx="452.14" cy="240.12" r="1.35"/><circle cx="452.46" cy="241.89" r="1.35"/><circle cx="453.02" cy="243.95" r="1.35"/><circle cx="453.37" cy="245.01" r="1.35"/><circle cx="454.05" cy="246.91" r="1.35"/><circle cx="454.36" cy="249.40" r="1.35"/><circle cx="454.72" cy="250.63" r="1.35"/><circle cx="455.22" cy="252.85" r="1.35"/><circle cx="455.45" cy="255.27" r="1.35"/><circle cx="455.90" cy="258.01" r="1.35"/><circle cx="456.70" cy="260.19" r="1.35"/><circle cx="457.28" cy="262.28" r="1.35"/><circle cx="457.36" cy="265.09" r="1.35"/><circle cx="457.94" cy="267.76" r="1.35"/><circle cx="458.24" cy="269.43" r="1.35"/><circle cx="458.75" cy="271.01" r="1.35"/><circle cx="459.01" cy="272.93" r="1.35"/><circle cx="459.45" cy="274.04" r="1.35"/><circle cx="460.03" cy="275.41" r="1.35"/><circle cx="460.78" cy="277.11" r="1.35"/><circle cx="461.34" cy="278.19" r="1.35"/><circle cx="461.45" cy="278.76" r="1.35"/><circle cx="461.83" cy="280.70" r="1.35"/><circle cx="462.42" cy="281.21" r="1.35"/><circle cx="462.87" cy="282.13" r="1.35"/><circle cx="463.25" cy="282.89" r="1.35"/><circle cx="463.87" cy="283.73" r="1.35"/><circle cx="464.07" cy="283.94" r="1.35"/><circle cx="464.54" cy="284.80" r="1.35"/><circle cx="465.37" cy="285.63" r="1.35"/><circle cx="465.69" cy="285.72" r="1.35"/><circle cx="466.37" cy="285.96" r="1.35"/><circle cx="466.70" cy="285.86" r="1.35"/><circle cx="467.28" cy="286.71" r="1.35"/><circle cx="467.51" cy="286.88" r="1.35"/><circle cx="467.92" cy="286.56" r="1.35"/><circle cx="468.46" cy="287.22" r="1.35"/><circle cx="468.96" cy="287.13" r="1.35"/><circle cx="469.77" cy="287.79" r="1.35"/><circle cx="469.82" cy="287.37" r="1.35"/><circle cx="470.58" cy="288.44" r="1.35"/><circle cx="471.05" cy="288.42" r="1.35"/><circle cx="471.66" cy="288.62" r="1.35"/><circle cx="471.61" cy="288.58" r="1.35"/><circle cx="472.23" cy="288.86" r="1.35"/><circle cx="472.55" cy="289.08" r="1.35"/><circle cx="473.34" cy="288.89" r="1.35"/><circle cx="473.76" cy="289.12" r="1.35"/><circle cx="474.26" cy="289.41" r="1.35"/><circle cx="474.90" cy="289.57" r="1.35"/><circle cx="474.84" cy="289.33" r="1.35"/><circle cx="475.71" cy="289.52" r="1.35"/><circle cx="476.23" cy="290.09" r="1.35"/><circle cx="476.47" cy="290.17" r="1.35"/><circle cx="477.26" cy="290.48" r="1.35"/><circle cx="477.49" cy="290.58" r="1.35"/><circle cx="478.04" cy="290.72" r="1.35"/><circle cx="478.58" cy="290.83" r="1.35"/><circle cx="478.78" cy="290.70" r="1.35"/><circle cx="479.36" cy="290.92" r="1.35"/><circle cx="479.69" cy="291.06" r="1.35"/><circle cx="480.28" cy="291.96" r="1.35"/><circle cx="480.84" cy="291.46" r="1.35"/><circle cx="481.29" cy="291.79" r="1.35"/><circle cx="481.52" cy="292.28" r="1.35"/><circle cx="482.25" cy="292.59" r="1.35"/><circle cx="482.81" cy="291.96" r="1.35"/><circle cx="483.51" cy="291.95" r="1.35"/><circle cx="483.47" cy="292.10" r="1.35"/><circle cx="483.93" cy="292.19" r="1.35"/><circle cx="484.84" cy="292.31" r="1.35"/><circle cx="485.07" cy="292.42" r="1.35"/><circle cx="485.45" cy="292.47" r="1.35"/><circle cx="485.97" cy="292.77" r="1.35"/><circle cx="486.68" cy="293.59" r="1.35"/><circle cx="486.82" cy="293.18" r="1.35"/><circle cx="487.53" cy="293.81" r="1.35"/><circle cx="487.66" cy="293.59" r="1.35"/><circle cx="488.34" cy="293.56" r="1.35"/><circle cx="488.99" cy="293.87" r="1.35"/><circle cx="489.28" cy="294.13" r="1.35"/><circle cx="489.89" cy="293.68" r="1.35"/><circle cx="490.12" cy="293.79" r="1.35"/><circle cx="490.97" cy="294.60" r="1.35"/><circle cx="491.07" cy="294.49" r="1.35"/><circle cx="491.48" cy="294.11" r="1.35"/><circle cx="492.30" cy="294.76" r="1.35"/><circle cx="492.62" cy="294.80" r="1.35"/><circle cx="493.10" cy="294.90" r="1.35"/><circle cx="493.48" cy="295.63" r="1.35"/><circle cx="493.83" cy="295.45" r="1.35"/><circle cx="494.37" cy="295.40" r="1.35"/><circle cx="494.78" cy="295.35" r="1.35"/><circle cx="495.60" cy="295.41" r="1.35"/><circle cx="495.98" cy="296.16" r="1.35"/><circle cx="496.56" cy="295.83" r="1.35"/><circle cx="496.96" cy="296.22" r="1.35"/><circle cx="497.67" cy="296.93" r="1.35"/><circle cx="498.03" cy="297.02" r="1.35"/><circle cx="498.41" cy="297.38" r="1.35"/><circle cx="499.08" cy="297.45" r="1.35"/><circle cx="499.23" cy="297.41" r="1.35"/><circle cx="500.01" cy="297.57" r="1.35"/><circle cx="500.62" cy="297.25" r="1.35"/><circle cx="500.64" cy="297.73" r="1.35"/><circle cx="501.18" cy="298.29" r="1.35"/><circle cx="502.07" cy="297.95" r="1.35"/><circle cx="502.49" cy="298.23" r="1.35"/><circle cx="503.04" cy="298.31" r="1.35"/><circle cx="503.09" cy="298.90" r="1.35"/><circle cx="503.61" cy="298.16" r="1.35"/><circle cx="504.40" cy="298.84" r="1.35"/><circle cx="504.93" cy="298.55" r="1.35"/><circle cx="505.45" cy="299.30" r="1.35"/><circle cx="505.76" cy="298.62" r="1.35"/><circle cx="506.31" cy="299.12" r="1.35"/><circle cx="506.42" cy="299.21" r="1.35"/><circle cx="507.38" cy="299.33" r="1.35"/><circle cx="507.57" cy="300.05" r="1.35"/><circle cx="508.20" cy="299.65" r="1.35"/><circle cx="508.46" cy="299.96" r="1.35"/><circle cx="509.06" cy="300.27" r="1.35"/><circle cx="509.61" cy="299.85" r="1.35"/><circle cx="510.22" cy="300.60" r="1.35"/><circle cx="510.49" cy="300.07" r="1.35"/><circle cx="510.95" cy="300.92" r="1.35"/><circle cx="511.33" cy="300.50" r="1.35"/><circle cx="512.07" cy="301.04" r="1.35"/><circle cx="512.64" cy="300.82" r="1.35"/><circle cx="513.07" cy="300.77" r="1.35"/><circle cx="513.14" cy="301.35" r="1.35"/><circle cx="513.74" cy="301.65" r="1.35"/><circle cx="514.29" cy="301.23" r="1.35"/><circle cx="515.09" cy="301.04" r="1.35"/><circle cx="515.65" cy="301.45" r="1.35"/><circle cx="515.58" cy="301.57" r="1.35"/><circle cx="516.12" cy="301.60" r="1.35"/><circle cx="516.83" cy="302.02" r="1.35"/><circle cx="517.13" cy="302.57" r="1.35"/><circle cx="517.59" cy="301.80" r="1.35"/><circle cx="518.15" cy="301.80" r="1.35"/><circle cx="519.01" cy="302.07" r="1.35"/><circle cx="518.98" cy="302.65" r="1.35"/><circle cx="519.66" cy="302.26" r="1.35"/><circle cx="520.23" cy="302.44" r="1.35"/><circle cx="520.49" cy="302.88" r="1.35"/><circle cx="521.04" cy="302.82" r="1.35"/><circle cx="521.65" cy="303.57" r="1.35"/><circle cx="522.18" cy="303.25" r="1.35"/><circle cx="522.47" cy="303.25" r="1.35"/><circle cx="522.91" cy="303.74" r="1.35"/><circle cx="523.78" cy="303.83" r="1.35"/><circle cx="523.94" cy="303.82" r="1.35"/><circle cx="524.34" cy="304.00" r="1.35"/><circle cx="525.20" cy="303.48" r="1.35"/><circle cx="525.14" cy="304.40" r="1.35"/><circle cx="525.89" cy="304.30" r="1.35"/><circle cx="526.51" cy="304.42" r="1.35"/><circle cx="526.56" cy="303.98" r="1.35"/><circle cx="527.21" cy="304.71" r="1.35"/><circle cx="527.90" cy="304.17" r="1.35"/><circle cx="528.01" cy="304.85" r="1.35"/><circle cx="528.94" cy="304.20" r="1.35"/><circle cx="529.09" cy="304.40" r="1.35"/><circle cx="529.60" cy="304.42" r="1.35"/><circle cx="530.06" cy="304.70" r="1.35"/><circle cx="530.37" cy="305.65" r="1.35"/><circle cx="530.93" cy="305.75" r="1.35"/><circle cx="531.75" cy="305.31" r="1.35"/><circle cx="532.01" cy="305.48" r="1.35"/><circle cx="532.45" cy="305.85" r="1.35"/><circle cx="532.85" cy="306.03" r="1.35"/><circle cx="533.52" cy="305.78" r="1.35"/><circle cx="534.27" cy="306.05" r="1.35"/><circle cx="534.56" cy="306.65" r="1.35"/><circle cx="535.09" cy="306.68" r="1.35"/><circle cx="535.40" cy="306.69" r="1.35"/></g>
<rect x="296.8" y="111" width="239.40" height="206.10" fill="none" stroke="#4a4a4a" stroke-width="1.25"/>
<text x="290.8" y="320.70" text-anchor="end" font-family='"Liberation Sans", sans-serif' font-size="10" fill="#222">0</text>
<text x="290.8" y="279.48" text-anchor="end" font-family='"Liberation Sans", sans-serif' font-size="10" fill="#222">2</text>
<text x="290.8" y="238.26" text-anchor="end" font-family='"Liberation Sans", sans-serif' font-size="10" fill="#222">4</text>
<text x="290.8" y="197.04" text-anchor="end" font-family='"Liberation Sans", sans-serif' font-size="10" fill="#222">6</text>
<text x="290.8" y="155.82" text-anchor="end" font-family='"Liberation Sans", sans-serif' font-size="10" fill="#222">8</text>
<text x="290.8" y="114.60" text-anchor="end" font-family='"Liberation Sans", sans-serif' font-size="10" fill="#222">10</text>
<text x="323.40" y="331" text-anchor="middle" font-family='"Liberation Sans", sans-serif' font-size="10" fill="#222">200</text>
<text x="376.60" y="331" text-anchor="middle" font-family='"Liberation Sans", sans-serif' font-size="10" fill="#222">400</text>
<text x="429.80" y="331" text-anchor="middle" font-family='"Liberation Sans", sans-serif' font-size="10" fill="#222">600</text>
<text x="483.00" y="331" text-anchor="middle" font-family='"Liberation Sans", sans-serif' font-size="10" fill="#222">800</text>
<text x="536.20" y="331" text-anchor="middle" font-family='"Liberation Sans", sans-serif' font-size="10" fill="#222">1000</text>
<text x="416.8" y="350.5" text-anchor="middle" font-family='"Liberation Sans", sans-serif' font-size="13" fill="#111">Wavenumber (cm<tspan font-size="8.5" dy="-4.5">-1</tspan><tspan dy="4.5">)</tspan></text>
<text transform="translate(268.6,205) rotate(-90)" text-anchor="middle" font-family='"Liberation Sans", sans-serif' font-size="13.1" fill="#111">Absorbance (a.u.)</text>
<text x="324.3" y="147.1" font-family='"Liberation Sans", sans-serif' font-size="12.3" fill="#111"><tspan font-family='"Liberation Serif", serif' font-size="13">β</tspan>-Li<tspan font-size="10.5" dy="3.7">2</tspan><tspan dy="-3.7">TiO</tspan><tspan font-size="10.5" dy="3.7">3</tspan></text>
<text transform="translate(512.7,137.2) scale(0.93,1)" text-anchor="middle" font-family='"Liberation Sans", sans-serif' font-size="14.8" fill="#111" stroke="#111" stroke-width="0.2">(b)</text>
<text transform="translate(312.64,270.30) rotate(-90) scale(0.93,1)" font-family='"Liberation Sans", sans-serif' font-size="8.5" fill="#2a2a2a" font-weight="normal" >139</text>
<path d="M309.60,275.00 V280.3" stroke="#777" stroke-width="0.8"/>
<text transform="translate(344.04,259.70) rotate(-90) scale(0.93,1)" font-family='"Liberation Sans", sans-serif' font-size="8.5" fill="#2a2a2a" font-weight="normal" >263</text>
<path d="M341.00,264.00 V270.3" stroke="#777" stroke-width="0.8"/>
<text transform="translate(365.84,231.60) rotate(-90) scale(0.93,1)" font-family='"Liberation Sans", sans-serif' font-size="8.5" fill="#2a2a2a" font-weight="normal" >357</text>
<path d="M362.80,239.70 V245.7" stroke="#777" stroke-width="0.8"/>
<text transform="translate(379.34,233.20) rotate(-90) scale(0.93,1)" font-family='"Liberation Sans", sans-serif' font-size="8.5" fill="#2a2a2a" font-weight="normal" >390</text>
<path d="M376.30,238.60 V244.6" stroke="#777" stroke-width="0.8"/>
<text transform="translate(396.14,209.90) rotate(-90) scale(0.93,1)" font-family='"Liberation Sans", sans-serif' font-size="8.5" fill="#2a2a2a" font-weight="normal" >452</text>
<path d="M393.10,213.80 V219.3" stroke="#777" stroke-width="0.8"/>
<text transform="translate(408.84,179.10) rotate(-90) scale(0.93,1)" font-family='"Liberation Sans", sans-serif' font-size="8.5" fill="#2a2a2a" font-weight="normal" >510</text>
<path d="M405.80,184.90 V190.3" stroke="#777" stroke-width="0.8"/>
<text transform="translate(417.24,187.50) rotate(-90) scale(0.93,1)" font-family='"Liberation Sans", sans-serif' font-size="8.5" fill="#2a2a2a" font-weight="normal" >541</text>
<path d="M414.20,192.70 V199.3" stroke="#777" stroke-width="0.8"/>
<text transform="translate(436.34,170.60) rotate(-90) scale(0.93,1)" font-family='"Liberation Sans", sans-serif' font-size="8.5" fill="#2a2a2a" font-weight="normal" >619</text>
<path d="M433.30,174.80 V181.4" stroke="#777" stroke-width="0.8"/>
<text transform="translate(453.04,198.20) rotate(-90) scale(0.93,1)" font-family='"Liberation Sans", sans-serif' font-size="8.5" fill="#2a2a2a" font-weight="normal" >642</text>
<path d="M450.00,205.00 V211.6" stroke="#777" stroke-width="0.8"/>
</svg>
</body></html>
